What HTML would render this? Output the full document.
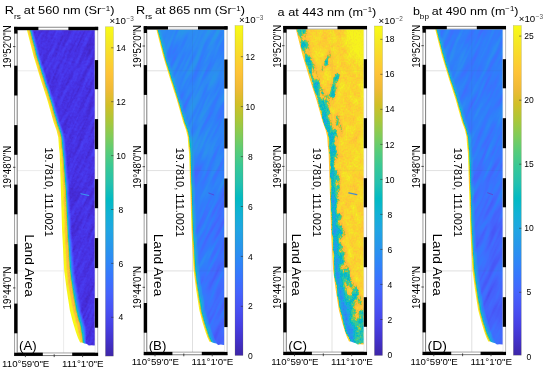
<!DOCTYPE html>
<html lang="en"><head><meta charset="utf-8"><title>Figure</title>
<style>html,body{margin:0;padding:0;background:#fff;overflow:hidden}svg{display:block}text{font-family:"Liberation Sans", Arial, Helvetica, sans-serif;fill:#000;stroke:none}</style></head><body>
<svg width="550" height="373" viewBox="0 0 550 373">
<defs>
<linearGradient id="parula" x1="0" y1="1" x2="0" y2="0"><stop offset="0.0000" stop-color="#3e26a8"/><stop offset="0.0476" stop-color="#4332cb"/><stop offset="0.0952" stop-color="#4741e5"/><stop offset="0.1429" stop-color="#4852f4"/><stop offset="0.1905" stop-color="#4563fd"/><stop offset="0.2381" stop-color="#3875fe"/><stop offset="0.2857" stop-color="#2e87f7"/><stop offset="0.3333" stop-color="#2797eb"/><stop offset="0.3810" stop-color="#20a5e3"/><stop offset="0.4286" stop-color="#12b1d6"/><stop offset="0.4762" stop-color="#02bac3"/><stop offset="0.5238" stop-color="#24c1ae"/><stop offset="0.5714" stop-color="#37c897"/><stop offset="0.6190" stop-color="#57cc7a"/><stop offset="0.6667" stop-color="#81cc59"/><stop offset="0.7143" stop-color="#abc739"/><stop offset="0.7619" stop-color="#d1bf27"/><stop offset="0.8095" stop-color="#f0ba36"/><stop offset="0.8571" stop-color="#fec338"/><stop offset="0.9048" stop-color="#fad62d"/><stop offset="0.9524" stop-color="#f5e924"/><stop offset="1.0000" stop-color="#f9fb15"/></linearGradient>
<filter id="fA" filterUnits="userSpaceOnUse" x="-10" y="-60" width="260" height="400" color-interpolation-filters="sRGB">
<feGaussianBlur in="SourceGraphic" stdDeviation="0.6" result="v0"/>
<feTurbulence type="fractalNoise" baseFrequency="0.30 0.035" numOctaves="2" seed="3" result="t0"/>
<feColorMatrix in="t0" type="matrix" values="0 0 0 1 0  0 0 0 1 0  0 0 0 1 0  0 0 0 0 1" result="n0"/>
<feComposite in="v0" in2="n0" operator="arithmetic" k1="0" k2="1" k3="0.120" k4="-0.060" result="v1"/>
<feTurbulence type="fractalNoise" baseFrequency="0.45 0.45" numOctaves="2" seed="8" result="t1"/>
<feColorMatrix in="t1" type="matrix" values="0 0 0 1 0  0 0 0 1 0  0 0 0 1 0  0 0 0 0 1" result="n1"/>
<feComposite in="v1" in2="n1" operator="arithmetic" k1="0" k2="1" k3="0.070" k4="-0.035" result="v2"/>
<feComponentTransfer in="v2"><feFuncR type="table" tableValues="0.249 0.257 0.265 0.271 0.277 0.281 0.283 0.285 0.285 0.285 0.283 0.278 0.272 0.262 0.245 0.221 0.196 0.183 0.179 0.176 0.169 0.154 0.146 0.138 0.125 0.111 0.095 0.069 0.030 0.004 0.007 0.043 0.096 0.141 0.172 0.194 0.216 0.247 0.291 0.341 0.391 0.446 0.504 0.562 0.617 0.672 0.724 0.774 0.820 0.863 0.903 0.939 0.973 0.996 0.997 0.995 0.989 0.979 0.968 0.961 0.960 0.963 0.969 0.977"/><feFuncG type="table" tableValues="0.126 0.140 0.156 0.172 0.189 0.209 0.231 0.253 0.277 0.301 0.325 0.349 0.374 0.401 0.428 0.457 0.485 0.507 0.529 0.550 0.570 0.590 0.609 0.628 0.646 0.663 0.680 0.695 0.708 0.720 0.731 0.741 0.750 0.758 0.767 0.776 0.784 0.792 0.797 0.801 0.803 0.802 0.799 0.794 0.788 0.779 0.770 0.760 0.750 0.741 0.733 0.729 0.730 0.743 0.766 0.789 0.814 0.839 0.864 0.889 0.913 0.937 0.961 0.984"/><feFuncB type="table" tableValues="0.707 0.754 0.797 0.840 0.880 0.913 0.938 0.958 0.974 0.987 0.997 1.000 1.000 1.000 1.000 1.000 0.989 0.980 0.968 0.952 0.936 0.922 0.908 0.897 0.888 0.876 0.860 0.839 0.816 0.792 0.766 0.739 0.712 0.684 0.655 0.625 0.592 0.557 0.519 0.479 0.435 0.391 0.348 0.304 0.261 0.223 0.191 0.165 0.153 0.160 0.177 0.210 0.239 0.237 0.220 0.203 0.189 0.177 0.164 0.154 0.142 0.127 0.106 0.081"/></feComponentTransfer>
</filter>
<filter id="fB" filterUnits="userSpaceOnUse" x="-10" y="-60" width="260" height="400" color-interpolation-filters="sRGB">
<feGaussianBlur in="SourceGraphic" stdDeviation="0.45" result="v0"/>
<feTurbulence type="fractalNoise" baseFrequency="0.22 0.03" numOctaves="2" seed="7" result="t0"/>
<feColorMatrix in="t0" type="matrix" values="0 0 0 1 0  0 0 0 1 0  0 0 0 1 0  0 0 0 0 1" result="n0"/>
<feComposite in="v0" in2="n0" operator="arithmetic" k1="0" k2="1" k3="0.170" k4="-0.085" result="v1"/>
<feTurbulence type="fractalNoise" baseFrequency="0.05 0.03" numOctaves="1" seed="2" result="t1"/>
<feColorMatrix in="t1" type="matrix" values="0 0 0 1 0  0 0 0 1 0  0 0 0 1 0  0 0 0 0 1" result="n1"/>
<feComposite in="v1" in2="n1" operator="arithmetic" k1="0" k2="1" k3="0.060" k4="-0.030" result="v2"/>
<feComponentTransfer in="v2"><feFuncR type="table" tableValues="0.242 0.250 0.258 0.265 0.271 0.275 0.278 0.280 0.281 0.281 0.280 0.276 0.270 0.260 0.244 0.221 0.196 0.183 0.179 0.176 0.169 0.154 0.146 0.138 0.125 0.111 0.095 0.069 0.030 0.004 0.007 0.043 0.096 0.141 0.172 0.194 0.216 0.247 0.291 0.341 0.391 0.446 0.504 0.562 0.617 0.672 0.724 0.774 0.820 0.863 0.903 0.939 0.973 0.996 0.997 0.995 0.989 0.979 0.968 0.961 0.960 0.963 0.969 0.977"/><feFuncG type="table" tableValues="0.150 0.165 0.182 0.198 0.215 0.234 0.256 0.278 0.301 0.323 0.345 0.367 0.389 0.412 0.436 0.460 0.485 0.507 0.529 0.550 0.570 0.590 0.609 0.628 0.646 0.663 0.680 0.695 0.708 0.720 0.731 0.741 0.750 0.758 0.767 0.776 0.784 0.792 0.797 0.801 0.803 0.802 0.799 0.794 0.788 0.779 0.770 0.760 0.750 0.741 0.733 0.729 0.730 0.743 0.766 0.789 0.814 0.839 0.864 0.889 0.913 0.937 0.961 0.984"/><feFuncB type="table" tableValues="0.660 0.708 0.751 0.795 0.836 0.871 0.899 0.922 0.941 0.958 0.972 0.983 0.991 0.995 0.999 0.997 0.989 0.980 0.968 0.952 0.936 0.922 0.908 0.897 0.888 0.876 0.860 0.839 0.816 0.792 0.766 0.739 0.712 0.684 0.655 0.625 0.592 0.557 0.519 0.479 0.435 0.391 0.348 0.304 0.261 0.223 0.191 0.165 0.153 0.160 0.177 0.210 0.239 0.237 0.220 0.203 0.189 0.177 0.164 0.154 0.142 0.127 0.106 0.081"/></feComponentTransfer>
</filter>
<filter id="fC" filterUnits="userSpaceOnUse" x="-10" y="-60" width="260" height="400" color-interpolation-filters="sRGB">
<feGaussianBlur in="SourceGraphic" stdDeviation="0.9" result="v0"/>
<feTurbulence type="fractalNoise" baseFrequency="0.13 0.09" numOctaves="3" seed="11" result="t0"/>
<feColorMatrix in="t0" type="matrix" values="0 0 0 1 0  0 0 0 1 0  0 0 0 1 0  0 0 0 0 1" result="n0"/>
<feComponentTransfer in="v0" result="m"><feFuncR type="table" tableValues="0.20 0.20 0.20 0.20 0.20 0.20 0.20 0.22 0.24 0.27 0.32 0.48 0.75 0.85 0.75 0.55 0.40 0.28 0.20 0.12 0.08"/><feFuncG type="table" tableValues="0.20 0.20 0.20 0.20 0.20 0.20 0.20 0.22 0.24 0.27 0.32 0.48 0.75 0.85 0.75 0.55 0.40 0.28 0.20 0.12 0.08"/><feFuncB type="table" tableValues="0.20 0.20 0.20 0.20 0.20 0.20 0.20 0.22 0.24 0.27 0.32 0.48 0.75 0.85 0.75 0.55 0.40 0.28 0.20 0.12 0.08"/></feComponentTransfer>
<feComposite in="m" in2="n0" operator="arithmetic" k1="1" k2="-0.5" k3="0" k4="0.5" result="d"/>
<feComposite in="v0" in2="d" operator="arithmetic" k1="0" k2="1" k3="1" k4="-0.5" result="v1"/>
<feTurbulence type="fractalNoise" baseFrequency="0.7 0.6" numOctaves="1" seed="5" result="t1"/>
<feColorMatrix in="t1" type="matrix" values="0 0 0 1 0  0 0 0 1 0  0 0 0 1 0  0 0 0 0 1" result="n1"/>
<feComposite in="v1" in2="n1" operator="arithmetic" k1="0" k2="1" k3="0.260" k4="-0.130" result="v2"/>
<feComponentTransfer in="v2"><feFuncR type="table" tableValues="0.242 0.250 0.258 0.265 0.271 0.275 0.278 0.280 0.281 0.281 0.280 0.276 0.270 0.260 0.244 0.221 0.196 0.183 0.179 0.176 0.169 0.154 0.146 0.138 0.125 0.111 0.095 0.069 0.030 0.004 0.007 0.043 0.096 0.141 0.172 0.194 0.216 0.238 0.294 0.416 0.585 0.750 0.876 0.952 0.979 0.990 0.996 0.997 0.997 0.996 0.994 0.991 0.987 0.981 0.976 0.970 0.966 0.963 0.961 0.960 0.960 0.962 0.964 0.967"/><feFuncG type="table" tableValues="0.150 0.165 0.182 0.198 0.215 0.234 0.256 0.278 0.301 0.323 0.345 0.367 0.389 0.412 0.436 0.460 0.485 0.507 0.529 0.550 0.570 0.590 0.609 0.628 0.646 0.663 0.680 0.695 0.708 0.720 0.731 0.741 0.750 0.758 0.767 0.776 0.784 0.790 0.798 0.803 0.791 0.765 0.738 0.729 0.734 0.740 0.749 0.760 0.772 0.783 0.795 0.807 0.820 0.832 0.845 0.857 0.870 0.882 0.895 0.907 0.919 0.931 0.943 0.955"/><feFuncB type="table" tableValues="0.660 0.708 0.751 0.795 0.836 0.871 0.899 0.922 0.941 0.958 0.972 0.983 0.991 0.995 0.999 0.997 0.989 0.980 0.968 0.952 0.936 0.922 0.908 0.897 0.888 0.876 0.860 0.839 0.816 0.792 0.766 0.739 0.712 0.684 0.655 0.625 0.592 0.567 0.516 0.415 0.286 0.177 0.165 0.221 0.239 0.238 0.233 0.224 0.216 0.207 0.199 0.192 0.186 0.180 0.174 0.167 0.162 0.156 0.151 0.145 0.139 0.131 0.122 0.112"/></feComponentTransfer>
</filter>
<filter id="fD" filterUnits="userSpaceOnUse" x="-10" y="-60" width="260" height="400" color-interpolation-filters="sRGB">
<feGaussianBlur in="SourceGraphic" stdDeviation="0.45" result="v0"/>
<feTurbulence type="fractalNoise" baseFrequency="0.22 0.03" numOctaves="2" seed="9" result="t0"/>
<feColorMatrix in="t0" type="matrix" values="0 0 0 1 0  0 0 0 1 0  0 0 0 1 0  0 0 0 0 1" result="n0"/>
<feComposite in="v0" in2="n0" operator="arithmetic" k1="0" k2="1" k3="0.160" k4="-0.080" result="v1"/>
<feTurbulence type="fractalNoise" baseFrequency="0.05 0.03" numOctaves="1" seed="4" result="t1"/>
<feColorMatrix in="t1" type="matrix" values="0 0 0 1 0  0 0 0 1 0  0 0 0 1 0  0 0 0 0 1" result="n1"/>
<feComposite in="v1" in2="n1" operator="arithmetic" k1="0" k2="1" k3="0.060" k4="-0.030" result="v2"/>
<feComponentTransfer in="v2"><feFuncR type="table" tableValues="0.242 0.250 0.258 0.265 0.271 0.275 0.278 0.280 0.281 0.281 0.280 0.276 0.270 0.260 0.244 0.221 0.196 0.183 0.179 0.176 0.169 0.154 0.146 0.138 0.125 0.111 0.095 0.069 0.030 0.004 0.007 0.043 0.096 0.141 0.172 0.194 0.216 0.247 0.291 0.341 0.391 0.446 0.504 0.562 0.617 0.672 0.724 0.774 0.820 0.863 0.903 0.939 0.973 0.996 0.997 0.995 0.989 0.979 0.968 0.961 0.960 0.963 0.969 0.977"/><feFuncG type="table" tableValues="0.150 0.165 0.182 0.198 0.215 0.234 0.256 0.278 0.301 0.323 0.345 0.367 0.389 0.412 0.436 0.460 0.485 0.507 0.529 0.550 0.570 0.590 0.609 0.628 0.646 0.663 0.680 0.695 0.708 0.720 0.731 0.741 0.750 0.758 0.767 0.776 0.784 0.792 0.797 0.801 0.803 0.802 0.799 0.794 0.788 0.779 0.770 0.760 0.750 0.741 0.733 0.729 0.730 0.743 0.766 0.789 0.814 0.839 0.864 0.889 0.913 0.937 0.961 0.984"/><feFuncB type="table" tableValues="0.660 0.708 0.751 0.795 0.836 0.871 0.899 0.922 0.941 0.958 0.972 0.983 0.991 0.995 0.999 0.997 0.989 0.980 0.968 0.952 0.936 0.922 0.908 0.897 0.888 0.876 0.860 0.839 0.816 0.792 0.766 0.739 0.712 0.684 0.655 0.625 0.592 0.557 0.519 0.479 0.435 0.391 0.348 0.304 0.261 0.223 0.191 0.165 0.153 0.160 0.177 0.210 0.239 0.237 0.220 0.203 0.189 0.177 0.164 0.154 0.142 0.127 0.106 0.081"/></feComponentTransfer>
</filter>
<linearGradient id="gB0" gradientUnits="userSpaceOnUse" x1="0" y1="0" x2="0" y2="320"><stop offset="0.000" stop-color="#494949"/><stop offset="0.406" stop-color="#464646"/><stop offset="0.625" stop-color="#3e3e3e"/><stop offset="1.000" stop-color="#373737"/></linearGradient>
<linearGradient id="gB1" gradientUnits="userSpaceOnUse" x1="0" y1="0" x2="0" y2="320"><stop offset="0.000" stop-color="#595959"/><stop offset="0.406" stop-color="#585858"/><stop offset="0.625" stop-color="#535353"/><stop offset="1.000" stop-color="#4f4f4f"/></linearGradient>
<linearGradient id="gD0" gradientUnits="userSpaceOnUse" x1="0" y1="0" x2="0" y2="320"><stop offset="0.000" stop-color="#434343"/><stop offset="0.406" stop-color="#404040"/><stop offset="0.625" stop-color="#373737"/><stop offset="1.000" stop-color="#303030"/></linearGradient>
<linearGradient id="gD1" gradientUnits="userSpaceOnUse" x1="0" y1="0" x2="0" y2="320"><stop offset="0.000" stop-color="#545454"/><stop offset="0.406" stop-color="#525252"/><stop offset="0.625" stop-color="#4c4c4c"/><stop offset="1.000" stop-color="#4a4a4a"/></linearGradient>
<linearGradient id="gC1" gradientUnits="userSpaceOnUse" x1="0" y1="0" x2="0" y2="320"><stop offset="0.000" stop-color="#878787"/><stop offset="0.312" stop-color="#808080"/><stop offset="0.500" stop-color="#757575"/><stop offset="0.750" stop-color="#6e6e6e"/><stop offset="1.000" stop-color="#666666"/></linearGradient>
<linearGradient id="gC2" gradientUnits="userSpaceOnUse" x1="0" y1="0" x2="0" y2="320"><stop offset="0.000" stop-color="#7a7a7a"/><stop offset="0.312" stop-color="#737373"/><stop offset="0.500" stop-color="#636363"/><stop offset="0.750" stop-color="#575757"/><stop offset="1.000" stop-color="#4c4c4c"/></linearGradient>
<clipPath id="dataclip"><polygon points="12.5,3.0 19.3,29.7 26.6,53.7 33.1,73.7 39.3,95.7 42.2,103.6 43.9,110.7 44.5,119.7 45.3,127.0 46.5,163.7 47.7,203.7 49.8,243.7 52.4,263.7 55.5,283.7 58.3,294.6 61.6,305.5 63.6,311.0 65.7,315.5 65.7,315.5 67.5,315.6 70.0,316.6 72.5,317.2 74.4,318.6 77.0,318.3 79.8,318.6 82.8,318.2 82.8,3.0"/></clipPath>
</defs>
<rect width="550" height="373" fill="#ffffff"/>
<!-- panel A -->
<g id="panelA">
<line x1="17.2" y1="70.8" x2="95.1" y2="70.8" stroke="#e2e2e2" stroke-width="0.7" opacity="1"/>
<line x1="17.2" y1="170.6" x2="95.1" y2="170.6" stroke="#e2e2e2" stroke-width="0.7" opacity="1"/>
<line x1="17.2" y1="270.9" x2="95.1" y2="270.9" stroke="#e2e2e2" stroke-width="0.7" opacity="1"/>
<line x1="63.6" y1="29.9" x2="63.6" y2="352.9" stroke="#e2e2e2" stroke-width="0.7" opacity="1"/>
<g transform="translate(14.4,26.9)" clip-path="url(#dataclip)"><g transform="rotate(25)" filter="url(#fA)"><g transform="rotate(-25)">
<rect x="-200" y="-200" width="600" height="800" fill="#121212"/>
<polygon points="18.0,0.0 18.8,3.0 19.6,6.0 20.3,9.0 21.1,12.0 21.9,15.0 22.7,18.0 23.4,21.0 24.2,24.0 25.0,27.0 25.8,30.0 26.7,33.0 27.6,36.0 28.5,39.0 29.4,42.0 30.3,45.0 31.3,48.0 32.2,51.0 33.1,54.0 34.1,57.0 35.1,60.0 36.0,63.0 37.0,66.0 38.0,69.0 39.0,72.0 39.9,75.0 40.8,78.0 41.6,81.0 42.5,84.0 43.3,87.0 44.2,90.0 45.0,93.0 45.9,96.0 47.0,99.0 48.1,102.0 49.1,105.0 49.8,108.0 50.5,111.0 50.7,114.0 51.0,117.0 51.2,120.0 51.5,123.0 51.9,126.0 52.2,129.0 52.5,132.0 52.7,135.0 52.9,138.0 53.1,141.0 53.4,144.0 53.6,147.0 53.8,150.0 54.0,153.0 54.2,156.0 54.5,159.0 54.7,162.0 54.9,165.0 55.1,168.0 55.3,171.0 55.5,174.0 55.6,177.0 55.8,180.0 55.9,183.0 56.1,186.0 56.3,189.0 56.4,192.0 56.6,195.0 56.8,198.0 56.9,201.0 57.1,204.0 57.3,207.0 57.6,210.0 57.8,213.0 58.0,216.0 58.2,219.0 58.5,222.0 58.7,225.0 58.9,228.0 59.2,231.0 59.4,234.0 59.6,237.0 59.9,240.0 60.1,243.0 60.5,246.0 61.0,249.0 61.4,252.0 61.9,255.0 62.4,258.0 62.8,261.0 63.3,264.0 63.8,267.0 64.3,270.0 64.8,273.0 65.4,276.0 65.9,279.0 66.4,282.0 67.1,285.0 67.9,288.0 68.7,291.0 69.5,294.0 70.5,297.0 71.4,300.0 71.6,303.0 71.8,306.0 71.9,309.0 71.8,312.0 71.7,315.0 72.1,318.0 72.3,318.5 61.1,318.5 60.9,318.0 59.5,315.0 58.1,312.0 56.9,309.0 55.8,306.0 54.8,303.0 53.9,300.0 53.0,297.0 52.1,294.0 51.4,291.0 50.6,288.0 49.8,285.0 49.2,282.0 48.8,279.0 48.3,276.0 47.8,273.0 47.4,270.0 46.9,267.0 46.4,264.0 46.0,261.0 45.7,258.0 45.3,255.0 44.9,252.0 44.5,249.0 44.1,246.0 43.8,243.0 43.6,240.0 43.4,237.0 43.3,234.0 43.1,231.0 43.0,228.0 42.8,225.0 42.7,222.0 42.5,219.0 42.3,216.0 42.2,213.0 42.0,210.0 41.9,207.0 41.7,204.0 41.6,201.0 41.5,198.0 41.4,195.0 41.3,192.0 41.3,189.0 41.2,186.0 41.1,183.0 41.0,180.0 40.9,177.0 40.8,174.0 40.7,171.0 40.6,168.0 40.5,165.0 40.4,162.0 40.3,159.0 40.2,156.0 40.2,153.0 40.1,150.0 40.0,147.0 39.9,144.0 39.8,141.0 39.7,138.0 39.6,135.0 39.5,132.0 39.4,129.0 39.2,126.0 38.9,123.0 38.5,120.0 38.3,117.0 38.1,114.0 37.9,111.0 37.3,108.0 36.5,105.0 35.6,102.0 34.5,99.0 33.4,96.0 32.5,93.0 31.7,90.0 30.8,87.0 30.0,84.0 29.2,81.0 28.3,78.0 27.5,75.0 26.5,72.0 25.6,69.0 24.6,66.0 23.6,63.0 22.6,60.0 21.7,57.0 20.7,54.0 19.8,51.0 18.9,48.0 18.0,45.0 17.0,42.0 16.1,39.0 15.2,36.0 14.3,33.0 13.4,30.0 12.6,27.0 11.8,24.0 11.1,21.0 10.3,18.0 9.6,15.0 8.8,12.0 8.0,9.0 7.3,6.0 6.5,3.0 5.7,0.0" fill="#212121"/>
<polygon points="17.1,0.0 17.9,3.0 18.6,6.0 19.4,9.0 20.2,12.0 20.9,15.0 21.7,18.0 22.5,21.0 23.2,24.0 24.0,27.0 24.8,30.0 25.7,33.0 26.6,36.0 27.5,39.0 28.5,42.0 29.4,45.0 30.3,48.0 31.2,51.0 32.1,54.0 33.1,57.0 34.1,60.0 35.1,63.0 36.0,66.0 37.0,69.0 38.0,72.0 38.9,75.0 39.8,78.0 40.6,81.0 41.5,84.0 42.3,87.0 43.2,90.0 44.0,93.0 44.9,96.0 46.0,99.0 47.1,102.0 48.1,105.0 48.8,108.0 49.5,111.0 49.7,114.0 49.9,117.0 50.2,120.0 50.5,123.0 50.9,126.0 51.2,129.0 51.4,132.0 51.6,135.0 51.8,138.0 52.1,141.0 52.3,144.0 52.5,147.0 52.7,150.0 52.9,153.0 53.2,156.0 53.4,159.0 53.6,162.0 53.8,165.0 54.0,168.0 54.2,171.0 54.3,174.0 54.5,177.0 54.6,180.0 54.8,183.0 54.9,186.0 55.1,189.0 55.3,192.0 55.4,195.0 55.6,198.0 55.7,201.0 55.9,204.0 56.1,207.0 56.3,210.0 56.5,213.0 56.8,216.0 57.0,219.0 57.2,222.0 57.4,225.0 57.6,228.0 57.9,231.0 58.1,234.0 58.3,237.0 58.5,240.0 58.7,243.0 59.1,246.0 59.6,249.0 60.1,252.0 60.5,255.0 61.0,258.0 61.4,261.0 61.9,264.0 62.5,267.0 63.0,270.0 63.5,273.0 64.1,276.0 64.6,279.0 65.2,282.0 65.9,285.0 66.7,288.0 67.5,291.0 68.3,294.0 69.3,297.0 70.2,300.0 70.5,303.0 70.8,306.0 71.0,309.0 71.1,312.0 71.2,315.0 71.6,318.0 71.9,318.5 61.1,318.5 60.9,318.0 59.5,315.0 58.1,312.0 56.9,309.0 55.8,306.0 54.8,303.0 53.9,300.0 53.0,297.0 52.1,294.0 51.4,291.0 50.6,288.0 49.8,285.0 49.2,282.0 48.8,279.0 48.3,276.0 47.8,273.0 47.4,270.0 46.9,267.0 46.4,264.0 46.0,261.0 45.7,258.0 45.3,255.0 44.9,252.0 44.5,249.0 44.1,246.0 43.8,243.0 43.6,240.0 43.4,237.0 43.3,234.0 43.1,231.0 43.0,228.0 42.8,225.0 42.7,222.0 42.5,219.0 42.3,216.0 42.2,213.0 42.0,210.0 41.9,207.0 41.7,204.0 41.6,201.0 41.5,198.0 41.4,195.0 41.3,192.0 41.3,189.0 41.2,186.0 41.1,183.0 41.0,180.0 40.9,177.0 40.8,174.0 40.7,171.0 40.6,168.0 40.5,165.0 40.4,162.0 40.3,159.0 40.2,156.0 40.2,153.0 40.1,150.0 40.0,147.0 39.9,144.0 39.8,141.0 39.7,138.0 39.6,135.0 39.5,132.0 39.4,129.0 39.2,126.0 38.9,123.0 38.5,120.0 38.3,117.0 38.1,114.0 37.9,111.0 37.3,108.0 36.5,105.0 35.6,102.0 34.5,99.0 33.4,96.0 32.5,93.0 31.7,90.0 30.8,87.0 30.0,84.0 29.2,81.0 28.3,78.0 27.5,75.0 26.5,72.0 25.6,69.0 24.6,66.0 23.6,63.0 22.6,60.0 21.7,57.0 20.7,54.0 19.8,51.0 18.9,48.0 18.0,45.0 17.0,42.0 16.1,39.0 15.2,36.0 14.3,33.0 13.4,30.0 12.6,27.0 11.8,24.0 11.1,21.0 10.3,18.0 9.6,15.0 8.8,12.0 8.0,9.0 7.3,6.0 6.5,3.0 5.7,0.0" fill="#3d3d3d"/>
<polygon points="15.8,0.0 16.6,3.0 17.4,6.0 18.1,9.0 18.9,12.0 19.7,15.0 20.4,18.0 21.2,21.0 22.0,24.0 22.7,27.0 23.5,30.0 24.4,33.0 25.4,36.0 26.3,39.0 27.2,42.0 28.1,45.0 29.0,48.0 29.9,51.0 30.9,54.0 31.8,57.0 32.8,60.0 33.8,63.0 34.8,66.0 35.7,69.0 36.7,72.0 37.6,75.0 38.5,78.0 39.3,81.0 40.2,84.0 41.0,87.0 41.9,90.0 42.7,93.0 43.6,96.0 44.7,99.0 45.8,102.0 46.8,105.0 47.5,108.0 48.2,111.0 48.4,114.0 48.6,117.0 48.8,120.0 49.2,123.0 49.5,126.0 49.8,129.0 50.0,132.0 50.3,135.0 50.5,138.0 50.7,141.0 50.9,144.0 51.1,147.0 51.3,150.0 51.6,153.0 51.8,156.0 52.0,159.0 52.2,162.0 52.4,165.0 52.6,168.0 52.8,171.0 52.9,174.0 53.1,177.0 53.2,180.0 53.3,183.0 53.5,186.0 53.6,189.0 53.8,192.0 53.9,195.0 54.1,198.0 54.2,201.0 54.4,204.0 54.6,207.0 54.8,210.0 55.0,213.0 55.2,216.0 55.4,219.0 55.6,222.0 55.8,225.0 56.0,228.0 56.3,231.0 56.5,234.0 56.7,237.0 56.9,240.0 57.1,243.0 57.5,246.0 57.9,249.0 58.4,252.0 58.8,255.0 59.3,258.0 59.7,261.0 60.2,264.0 60.8,267.0 61.4,270.0 61.9,273.0 62.5,276.0 63.1,279.0 63.6,282.0 64.3,285.0 65.2,288.0 66.0,291.0 66.8,294.0 67.8,297.0 68.7,300.0 69.1,303.0 69.5,306.0 69.8,309.0 70.0,312.0 70.3,315.0 70.9,318.0 71.1,318.5 61.1,318.5 60.9,318.0 59.5,315.0 58.1,312.0 56.9,309.0 55.8,306.0 54.8,303.0 53.9,300.0 53.0,297.0 52.1,294.0 51.4,291.0 50.6,288.0 49.8,285.0 49.2,282.0 48.8,279.0 48.3,276.0 47.8,273.0 47.4,270.0 46.9,267.0 46.4,264.0 46.0,261.0 45.7,258.0 45.3,255.0 44.9,252.0 44.5,249.0 44.1,246.0 43.8,243.0 43.6,240.0 43.4,237.0 43.3,234.0 43.1,231.0 43.0,228.0 42.8,225.0 42.7,222.0 42.5,219.0 42.3,216.0 42.2,213.0 42.0,210.0 41.9,207.0 41.7,204.0 41.6,201.0 41.5,198.0 41.4,195.0 41.3,192.0 41.3,189.0 41.2,186.0 41.1,183.0 41.0,180.0 40.9,177.0 40.8,174.0 40.7,171.0 40.6,168.0 40.5,165.0 40.4,162.0 40.3,159.0 40.2,156.0 40.2,153.0 40.1,150.0 40.0,147.0 39.9,144.0 39.8,141.0 39.7,138.0 39.6,135.0 39.5,132.0 39.4,129.0 39.2,126.0 38.9,123.0 38.5,120.0 38.3,117.0 38.1,114.0 37.9,111.0 37.3,108.0 36.5,105.0 35.6,102.0 34.5,99.0 33.4,96.0 32.5,93.0 31.7,90.0 30.8,87.0 30.0,84.0 29.2,81.0 28.3,78.0 27.5,75.0 26.5,72.0 25.6,69.0 24.6,66.0 23.6,63.0 22.6,60.0 21.7,57.0 20.7,54.0 19.8,51.0 18.9,48.0 18.0,45.0 17.0,42.0 16.1,39.0 15.2,36.0 14.3,33.0 13.4,30.0 12.6,27.0 11.8,24.0 11.1,21.0 10.3,18.0 9.6,15.0 8.8,12.0 8.0,9.0 7.3,6.0 6.5,3.0 5.7,0.0" fill="#6b6b6b"/>
<polygon points="15.2,0.0 16.0,3.0 16.8,6.0 17.5,9.0 18.3,12.0 19.1,15.0 19.8,18.0 20.6,21.0 21.4,24.0 22.1,27.0 22.9,30.0 23.8,33.0 24.8,36.0 25.7,39.0 26.6,42.0 27.5,45.0 28.4,48.0 29.3,51.0 30.3,54.0 31.2,57.0 32.2,60.0 33.2,63.0 34.2,66.0 35.1,69.0 36.1,72.0 37.0,75.0 37.9,78.0 38.7,81.0 39.6,84.0 40.4,87.0 41.3,90.0 42.1,93.0 43.0,96.0 44.1,99.0 45.2,102.0 46.2,105.0 46.9,108.0 47.6,111.0 47.8,114.0 48.0,117.0 48.2,120.0 48.6,123.0 48.9,126.0 49.2,129.0 49.5,132.0 49.7,135.0 49.9,138.0 50.1,141.0 50.4,144.0 50.6,147.0 50.8,150.0 51.0,153.0 51.2,156.0 51.5,159.0 51.7,162.0 51.9,165.0 52.1,168.0 52.3,171.0 52.4,174.0 52.5,177.0 52.6,180.0 52.7,183.0 52.9,186.0 53.0,189.0 53.1,192.0 53.2,195.0 53.4,198.0 53.5,201.0 53.6,204.0 53.8,207.0 54.0,210.0 54.2,213.0 54.4,216.0 54.6,219.0 54.8,222.0 55.0,225.0 55.1,228.0 55.3,231.0 55.5,234.0 55.7,237.0 55.9,240.0 56.1,243.0 56.5,246.0 56.9,249.0 57.3,252.0 57.7,255.0 58.2,258.0 58.6,261.0 59.0,264.0 59.5,267.0 60.0,270.0 60.5,273.0 61.0,276.0 61.6,279.0 62.1,282.0 62.7,285.0 63.5,288.0 64.3,291.0 65.1,294.0 66.0,297.0 66.9,300.0 67.4,303.0 67.8,306.0 68.3,309.0 68.6,312.0 68.9,315.0 69.6,318.0 69.8,318.5 61.1,318.5 60.9,318.0 59.5,315.0 58.1,312.0 56.9,309.0 55.8,306.0 54.8,303.0 53.9,300.0 53.0,297.0 52.1,294.0 51.4,291.0 50.6,288.0 49.8,285.0 49.2,282.0 48.8,279.0 48.3,276.0 47.8,273.0 47.4,270.0 46.9,267.0 46.4,264.0 46.0,261.0 45.7,258.0 45.3,255.0 44.9,252.0 44.5,249.0 44.1,246.0 43.8,243.0 43.6,240.0 43.4,237.0 43.3,234.0 43.1,231.0 43.0,228.0 42.8,225.0 42.7,222.0 42.5,219.0 42.3,216.0 42.2,213.0 42.0,210.0 41.9,207.0 41.7,204.0 41.6,201.0 41.5,198.0 41.4,195.0 41.3,192.0 41.3,189.0 41.2,186.0 41.1,183.0 41.0,180.0 40.9,177.0 40.8,174.0 40.7,171.0 40.6,168.0 40.5,165.0 40.4,162.0 40.3,159.0 40.2,156.0 40.2,153.0 40.1,150.0 40.0,147.0 39.9,144.0 39.8,141.0 39.7,138.0 39.6,135.0 39.5,132.0 39.4,129.0 39.2,126.0 38.9,123.0 38.5,120.0 38.3,117.0 38.1,114.0 37.9,111.0 37.3,108.0 36.5,105.0 35.6,102.0 34.5,99.0 33.4,96.0 32.5,93.0 31.7,90.0 30.8,87.0 30.0,84.0 29.2,81.0 28.3,78.0 27.5,75.0 26.5,72.0 25.6,69.0 24.6,66.0 23.6,63.0 22.6,60.0 21.7,57.0 20.7,54.0 19.8,51.0 18.9,48.0 18.0,45.0 17.0,42.0 16.1,39.0 15.2,36.0 14.3,33.0 13.4,30.0 12.6,27.0 11.8,24.0 11.1,21.0 10.3,18.0 9.6,15.0 8.8,12.0 8.0,9.0 7.3,6.0 6.5,3.0 5.7,0.0" fill="#999999"/>
<polygon points="14.5,0.0 15.3,3.0 16.1,6.0 16.8,9.0 17.6,12.0 18.4,15.0 19.1,18.0 19.9,21.0 20.7,24.0 21.4,27.0 22.2,30.0 23.1,33.0 24.1,36.0 25.0,39.0 25.9,42.0 26.8,45.0 27.7,48.0 28.6,51.0 29.6,54.0 30.5,57.0 31.5,60.0 32.5,63.0 33.5,66.0 34.4,69.0 35.4,72.0 36.3,75.0 37.2,78.0 38.0,81.0 38.9,84.0 39.7,87.0 40.6,90.0 41.4,93.0 42.3,96.0 43.4,99.0 44.5,102.0 45.5,105.0 46.2,108.0 46.9,111.0 47.1,114.0 47.3,117.0 47.5,120.0 47.9,123.0 48.2,126.0 48.5,129.0 48.8,132.0 49.0,135.0 49.2,138.0 49.4,141.0 49.7,144.0 49.9,147.0 50.1,150.0 50.3,153.0 50.5,156.0 50.8,159.0 51.0,162.0 51.2,165.0 51.4,168.0 51.6,171.0 51.7,174.0 51.8,177.0 51.9,180.0 52.0,183.0 52.2,186.0 52.3,189.0 52.4,192.0 52.5,195.0 52.7,198.0 52.8,201.0 52.9,204.0 53.1,207.0 53.3,210.0 53.5,213.0 53.7,216.0 53.9,219.0 54.1,222.0 54.3,225.0 54.4,228.0 54.6,231.0 54.8,234.0 55.0,237.0 55.2,240.0 55.4,243.0 55.8,246.0 56.2,249.0 56.6,252.0 57.0,255.0 57.5,258.0 57.9,261.0 58.3,264.0 58.8,267.0 59.3,270.0 59.8,273.0 60.3,276.0 60.9,279.0 61.4,282.0 62.0,285.0 62.8,288.0 63.6,291.0 64.4,294.0 65.3,297.0 66.2,300.0 66.7,303.0 67.1,306.0 67.6,309.0 67.9,312.0 68.2,315.0 68.9,318.0 69.1,318.5 61.1,318.5 60.9,318.0 59.5,315.0 58.1,312.0 56.9,309.0 55.8,306.0 54.8,303.0 53.9,300.0 53.0,297.0 52.1,294.0 51.4,291.0 50.6,288.0 49.8,285.0 49.2,282.0 48.8,279.0 48.3,276.0 47.8,273.0 47.4,270.0 46.9,267.0 46.4,264.0 46.0,261.0 45.7,258.0 45.3,255.0 44.9,252.0 44.5,249.0 44.1,246.0 43.8,243.0 43.6,240.0 43.4,237.0 43.3,234.0 43.1,231.0 43.0,228.0 42.8,225.0 42.7,222.0 42.5,219.0 42.3,216.0 42.2,213.0 42.0,210.0 41.9,207.0 41.7,204.0 41.6,201.0 41.5,198.0 41.4,195.0 41.3,192.0 41.3,189.0 41.2,186.0 41.1,183.0 41.0,180.0 40.9,177.0 40.8,174.0 40.7,171.0 40.6,168.0 40.5,165.0 40.4,162.0 40.3,159.0 40.2,156.0 40.2,153.0 40.1,150.0 40.0,147.0 39.9,144.0 39.8,141.0 39.7,138.0 39.6,135.0 39.5,132.0 39.4,129.0 39.2,126.0 38.9,123.0 38.5,120.0 38.3,117.0 38.1,114.0 37.9,111.0 37.3,108.0 36.5,105.0 35.6,102.0 34.5,99.0 33.4,96.0 32.5,93.0 31.7,90.0 30.8,87.0 30.0,84.0 29.2,81.0 28.3,78.0 27.5,75.0 26.5,72.0 25.6,69.0 24.6,66.0 23.6,63.0 22.6,60.0 21.7,57.0 20.7,54.0 19.8,51.0 18.9,48.0 18.0,45.0 17.0,42.0 16.1,39.0 15.2,36.0 14.3,33.0 13.4,30.0 12.6,27.0 11.8,24.0 11.1,21.0 10.3,18.0 9.6,15.0 8.8,12.0 8.0,9.0 7.3,6.0 6.5,3.0 5.7,0.0" fill="#d6d6d6"/>
<polygon points="12.7,0.0 13.5,3.0 14.3,6.0 15.0,9.0 15.8,12.0 16.6,15.0 17.4,18.0 18.1,21.0 18.9,24.0 19.7,27.0 20.5,30.0 21.4,33.0 22.3,36.0 23.2,39.0 24.1,42.0 25.0,45.0 26.0,48.0 26.9,51.0 27.8,54.0 28.8,57.0 29.8,60.0 30.7,63.0 31.7,66.0 32.7,69.0 33.7,72.0 34.6,75.0 35.5,78.0 36.3,81.0 37.2,84.0 38.0,87.0 38.9,90.0 39.7,93.0 40.6,96.0 41.7,99.0 42.9,102.0 43.9,105.0 44.6,108.0 45.4,111.0 45.7,114.0 45.9,117.0 46.2,120.0 46.6,123.0 47.0,126.0 47.3,129.0 47.4,132.0 47.6,135.0 47.8,138.0 47.9,141.0 48.1,144.0 48.3,147.0 48.4,150.0 48.6,153.0 48.8,156.0 48.9,159.0 49.1,162.0 49.3,165.0 49.4,168.0 49.5,171.0 49.6,174.0 49.7,177.0 49.8,180.0 49.8,183.0 49.9,186.0 50.0,189.0 50.1,192.0 50.2,195.0 50.3,198.0 50.3,201.0 50.4,204.0 50.6,207.0 50.7,210.0 50.9,213.0 51.0,216.0 51.2,219.0 51.3,222.0 51.5,225.0 51.6,228.0 51.8,231.0 51.9,234.0 52.1,237.0 52.2,240.0 52.4,243.0 52.7,246.0 53.1,249.0 53.5,252.0 53.9,255.0 54.3,258.0 54.7,261.0 55.2,264.0 55.8,267.0 56.3,270.0 56.9,273.0 57.4,276.0 58.0,279.0 58.6,282.0 59.2,285.0 60.1,288.0 60.8,291.0 61.5,294.0 62.3,297.0 63.1,300.0 63.8,303.0 64.5,306.0 65.2,309.0 66.0,312.0 66.8,315.0 67.8,318.0 68.0,318.5 61.1,318.5 60.9,318.0 59.5,315.0 58.1,312.0 56.9,309.0 55.8,306.0 54.8,303.0 53.9,300.0 53.0,297.0 52.1,294.0 51.4,291.0 50.6,288.0 49.8,285.0 49.2,282.0 48.8,279.0 48.3,276.0 47.8,273.0 47.4,270.0 46.9,267.0 46.4,264.0 46.0,261.0 45.7,258.0 45.3,255.0 44.9,252.0 44.5,249.0 44.1,246.0 43.8,243.0 43.6,240.0 43.4,237.0 43.3,234.0 43.1,231.0 43.0,228.0 42.8,225.0 42.7,222.0 42.5,219.0 42.3,216.0 42.2,213.0 42.0,210.0 41.9,207.0 41.7,204.0 41.6,201.0 41.5,198.0 41.4,195.0 41.3,192.0 41.3,189.0 41.2,186.0 41.1,183.0 41.0,180.0 40.9,177.0 40.8,174.0 40.7,171.0 40.6,168.0 40.5,165.0 40.4,162.0 40.3,159.0 40.2,156.0 40.2,153.0 40.1,150.0 40.0,147.0 39.9,144.0 39.8,141.0 39.7,138.0 39.6,135.0 39.5,132.0 39.4,129.0 39.2,126.0 38.9,123.0 38.5,120.0 38.3,117.0 38.1,114.0 37.9,111.0 37.3,108.0 36.5,105.0 35.6,102.0 34.5,99.0 33.4,96.0 32.5,93.0 31.7,90.0 30.8,87.0 30.0,84.0 29.2,81.0 28.3,78.0 27.5,75.0 26.5,72.0 25.6,69.0 24.6,66.0 23.6,63.0 22.6,60.0 21.7,57.0 20.7,54.0 19.8,51.0 18.9,48.0 18.0,45.0 17.0,42.0 16.1,39.0 15.2,36.0 14.3,33.0 13.4,30.0 12.6,27.0 11.8,24.0 11.1,21.0 10.3,18.0 9.6,15.0 8.8,12.0 8.0,9.0 7.3,6.0 6.5,3.0 5.7,0.0" fill="#fcfcfc"/>
</g></g>
<path d="M66.5 166.8 L74.4 168.6" stroke="#3aa8ee" stroke-width="1.1" stroke-linecap="round" fill="none" opacity="0.85"/>
</g>
<path fill-rule="evenodd" fill="#fff" d="M14.2 26.9h83.9v329.0h-83.9z M17.4 30.1h77.5v322.6h-77.5z"/>
<line x1="14.55" y1="26.90" x2="14.55" y2="355.90" stroke="#777" stroke-width="0.7"/>
<line x1="17.20" y1="30.10" x2="17.20" y2="352.70" stroke="#444" stroke-width="0.7"/>
<line x1="97.70" y1="26.90" x2="97.70" y2="355.90" stroke="#b5b5b5" stroke-width="0.9"/>
<line x1="95.10" y1="30.10" x2="95.10" y2="352.70" stroke="#ddd" stroke-width="0.5"/>
<line x1="14.20" y1="27.25" x2="98.10" y2="27.25" stroke="#555" stroke-width="0.7"/>
<line x1="17.40" y1="29.85" x2="94.90" y2="29.85" stroke="#888" stroke-width="0.6"/>
<line x1="14.20" y1="355.55" x2="98.10" y2="355.55" stroke="#444" stroke-width="0.7"/>
<line x1="17.40" y1="352.95" x2="94.90" y2="352.95" stroke="#666" stroke-width="0.6"/>
<rect x="14.2" y="26.9" width="24.2" height="3.2" fill="#000"/>
<rect x="68.4" y="26.9" width="29.7" height="3.2" fill="#000"/>
<rect x="14.2" y="352.7" width="28.6" height="3.2" fill="#000"/>
<rect x="72.2" y="352.7" width="25.9" height="3.2" fill="#000"/>
<rect x="14.2" y="26.9" width="3.2" height="6.7" fill="#000"/>
<rect x="14.2" y="65.7" width="3.2" height="29.8" fill="#000"/>
<rect x="14.2" y="125.1" width="3.2" height="29.7" fill="#000"/>
<rect x="14.2" y="184.6" width="3.2" height="29.7" fill="#000"/>
<rect x="14.2" y="244.1" width="3.2" height="29.7" fill="#000"/>
<rect x="14.2" y="303.6" width="3.2" height="29.7" fill="#000"/>
<rect x="94.9" y="26.9" width="3.2" height="3.2" fill="#000"/>
<rect x="94.9" y="60.1" width="3.2" height="29.1" fill="#000"/>
<rect x="94.9" y="119.1" width="3.2" height="30.0" fill="#000"/>
<rect x="94.9" y="179.1" width="3.2" height="29.1" fill="#000"/>
<rect x="94.9" y="238.1" width="3.2" height="30.0" fill="#000"/>
<rect x="94.9" y="298.1" width="3.2" height="29.6" fill="#000"/>
<line x1="13.0" y1="46.6" x2="15.4" y2="46.6" stroke="#222" stroke-width="0.8"/>
<line x1="13.0" y1="167.3" x2="15.4" y2="167.3" stroke="#222" stroke-width="0.8"/>
<line x1="13.0" y1="287.9" x2="15.4" y2="287.9" stroke="#222" stroke-width="0.8"/>
<line x1="25.4" y1="354.3" x2="25.4" y2="357.1" stroke="#222" stroke-width="0.8"/>
<line x1="54.2" y1="354.3" x2="54.2" y2="357.1" stroke="#222" stroke-width="0.8"/>
<line x1="82.6" y1="354.3" x2="82.6" y2="357.1" stroke="#222" stroke-width="0.8"/>
<text transform="translate(11.4,46.8) rotate(-90)" font-size="10" textLength="43" lengthAdjust="spacingAndGlyphs" x="-21.5">19°52'0&quot;N</text>
<text transform="translate(11.4,167.3) rotate(-90)" font-size="10" textLength="43" lengthAdjust="spacingAndGlyphs" x="-21.5">19°48'0&quot;N</text>
<text transform="translate(11.4,287.9) rotate(-90)" font-size="10" textLength="43" lengthAdjust="spacingAndGlyphs" x="-21.5">19°44'0&quot;N</text>
<text x="2.1" y="366.5" font-size="9.9" textLength="47.2" lengthAdjust="spacingAndGlyphs">110°59'0&quot;E</text>
<text x="62.0" y="366.5" font-size="9.9" textLength="41.6" lengthAdjust="spacingAndGlyphs">111°1'0&quot;E</text>
<text transform="translate(45.2,147.5) rotate(90)" font-size="10.7" textLength="89.2" lengthAdjust="spacingAndGlyphs">19.7810, 111.0021</text>
<text transform="translate(24.5,234.3) rotate(90)" font-size="13.3" textLength="62.6" lengthAdjust="spacingAndGlyphs" stroke-width="0.05">Land Area</text>
<text x="19.1" y="349.6" font-size="12.9" textLength="17.6" lengthAdjust="spacingAndGlyphs">(A)</text>
<rect x="105.4" y="26.8" width="8.0" height="329.3" fill="url(#parula)" stroke="#7a7a40" stroke-opacity="0.45" stroke-width="0.5"/>
<line x1="111.2" y1="47.8" x2="113.4" y2="47.8" stroke="#333" stroke-width="0.6"/>
<text transform="translate(121.0,50.9) scale(0.92,1)" font-size="9.3" text-anchor="middle">14</text>
<line x1="111.2" y1="101.7" x2="113.4" y2="101.7" stroke="#333" stroke-width="0.6"/>
<text transform="translate(121.0,104.8) scale(0.92,1)" font-size="9.3" text-anchor="middle">12</text>
<line x1="111.2" y1="155.6" x2="113.4" y2="155.6" stroke="#333" stroke-width="0.6"/>
<text transform="translate(121.0,158.7) scale(0.92,1)" font-size="9.3" text-anchor="middle">10</text>
<line x1="111.2" y1="209.5" x2="113.4" y2="209.5" stroke="#333" stroke-width="0.6"/>
<text transform="translate(121.0,212.6) scale(0.92,1)" font-size="9.3" text-anchor="middle">8</text>
<line x1="111.2" y1="263.4" x2="113.4" y2="263.4" stroke="#333" stroke-width="0.6"/>
<text transform="translate(121.0,266.5) scale(0.92,1)" font-size="9.3" text-anchor="middle">6</text>
<line x1="111.2" y1="317.3" x2="113.4" y2="317.3" stroke="#333" stroke-width="0.6"/>
<text transform="translate(121.0,320.4) scale(0.92,1)" font-size="9.3" text-anchor="middle">4</text>
</g>
<!-- panel B -->
<g id="panelB">
<line x1="146.8" y1="70.8" x2="224.5" y2="70.8" stroke="#e2e2e2" stroke-width="0.7" opacity="1"/>
<line x1="146.8" y1="170.6" x2="224.5" y2="170.6" stroke="#e2e2e2" stroke-width="0.7" opacity="1"/>
<line x1="146.8" y1="270.9" x2="224.5" y2="270.9" stroke="#e2e2e2" stroke-width="0.7" opacity="1"/>
<line x1="192.5" y1="29.3" x2="192.5" y2="352.1" stroke="#e2e2e2" stroke-width="0.7" opacity="1"/>
<g transform="translate(143.8,26.3)" clip-path="url(#dataclip)"><g transform="rotate(25)" filter="url(#fB)"><g transform="rotate(-25)">
<rect x="-200" y="-200" width="600" height="800" fill="url(#gB0)"/>
<polygon points="70,120 90,120 90,330 62,330 66,250" fill="#000" opacity="0.035"/>
<polygon points="15.9,0.0 16.7,3.0 17.5,6.0 18.2,9.0 19.0,12.0 19.8,15.0 20.6,18.0 21.3,21.0 22.1,24.0 22.9,27.0 23.7,30.0 24.6,33.0 25.5,36.0 26.4,39.0 27.3,42.0 28.2,45.0 29.2,48.0 30.1,51.0 31.0,54.0 32.0,57.0 33.0,60.0 33.9,63.0 34.9,66.0 35.9,69.0 36.9,72.0 37.8,75.0 38.7,78.0 39.5,81.0 40.4,84.0 41.2,87.0 42.1,90.0 42.9,93.0 43.8,96.0 44.9,99.0 46.0,102.0 46.9,105.0 47.7,108.0 48.3,111.0 48.5,114.0 48.8,117.0 49.0,120.0 49.3,123.0 49.6,126.0 49.8,129.0 49.9,132.0 50.0,135.0 50.1,138.0 50.2,141.0 50.3,144.0 50.4,147.0 50.6,150.0 50.7,153.0 50.8,156.0 50.9,159.0 51.0,162.0 51.1,165.0 51.2,168.0 51.3,171.0 51.4,174.0 51.5,177.0 51.5,180.0 51.6,183.0 51.7,186.0 51.8,189.0 51.9,192.0 52.0,195.0 52.1,198.0 52.2,201.0 52.4,204.0 52.6,207.0 52.8,210.0 53.0,213.0 53.2,216.0 53.4,219.0 53.6,222.0 53.8,225.0 54.0,228.0 54.2,231.0 54.4,234.0 54.6,237.0 54.8,240.0 55.0,243.0 55.4,246.0 55.8,249.0 56.3,252.0 56.7,255.0 57.1,258.0 57.6,261.0 58.0,264.0 58.5,267.0 59.0,270.0 59.5,273.0 60.0,276.0 60.6,279.0 61.1,282.0 61.7,285.0 62.5,288.0 63.3,291.0 64.2,294.0 65.1,297.0 66.0,300.0 67.0,303.0 68.0,306.0 69.1,309.0 70.3,312.0 71.8,315.0 73.2,318.0 73.5,318.5 61.1,318.5 60.9,318.0 59.5,315.0 58.1,312.0 56.9,309.0 55.8,306.0 54.8,303.0 53.9,300.0 53.0,297.0 52.1,294.0 51.4,291.0 50.6,288.0 49.8,285.0 49.2,282.0 48.8,279.0 48.3,276.0 47.8,273.0 47.4,270.0 46.9,267.0 46.4,264.0 46.0,261.0 45.7,258.0 45.3,255.0 44.9,252.0 44.5,249.0 44.1,246.0 43.8,243.0 43.6,240.0 43.4,237.0 43.3,234.0 43.1,231.0 43.0,228.0 42.8,225.0 42.7,222.0 42.5,219.0 42.3,216.0 42.2,213.0 42.0,210.0 41.9,207.0 41.7,204.0 41.6,201.0 41.5,198.0 41.4,195.0 41.3,192.0 41.3,189.0 41.2,186.0 41.1,183.0 41.0,180.0 40.9,177.0 40.8,174.0 40.7,171.0 40.6,168.0 40.5,165.0 40.4,162.0 40.3,159.0 40.2,156.0 40.2,153.0 40.1,150.0 40.0,147.0 39.9,144.0 39.8,141.0 39.7,138.0 39.6,135.0 39.5,132.0 39.4,129.0 39.2,126.0 38.9,123.0 38.5,120.0 38.3,117.0 38.1,114.0 37.9,111.0 37.3,108.0 36.5,105.0 35.6,102.0 34.5,99.0 33.4,96.0 32.5,93.0 31.7,90.0 30.8,87.0 30.0,84.0 29.2,81.0 28.3,78.0 27.5,75.0 26.5,72.0 25.6,69.0 24.6,66.0 23.6,63.0 22.6,60.0 21.7,57.0 20.7,54.0 19.8,51.0 18.9,48.0 18.0,45.0 17.0,42.0 16.1,39.0 15.2,36.0 14.3,33.0 13.4,30.0 12.6,27.0 11.8,24.0 11.1,21.0 10.3,18.0 9.6,15.0 8.8,12.0 8.0,9.0 7.3,6.0 6.5,3.0 5.7,0.0" fill="url(#gB1)"/>
<polygon points="14.1,0.0 14.9,3.0 15.7,6.0 16.4,9.0 17.2,12.0 18.0,15.0 18.7,18.0 19.5,21.0 20.3,24.0 21.0,27.0 21.8,30.0 22.7,33.0 23.7,36.0 24.6,39.0 25.5,42.0 26.4,45.0 27.3,48.0 28.2,51.0 29.2,54.0 30.1,57.0 31.1,60.0 32.1,63.0 33.1,66.0 34.0,69.0 35.0,72.0 35.9,75.0 36.8,78.0 37.6,81.0 38.5,84.0 39.3,87.0 40.2,90.0 41.0,93.0 41.9,96.0 43.0,99.0 44.1,102.0 45.0,105.0 45.8,108.0 46.4,111.0 46.6,114.0 46.8,117.0 47.1,120.0 47.4,123.0 47.7,126.0 47.9,129.0 48.0,132.0 48.1,135.0 48.2,138.0 48.3,141.0 48.4,144.0 48.5,147.0 48.6,150.0 48.7,153.0 48.8,156.0 48.9,159.0 49.0,162.0 49.1,165.0 49.2,168.0 49.3,171.0 49.4,174.0 49.5,177.0 49.6,180.0 49.7,183.0 49.8,186.0 49.8,189.0 49.9,192.0 50.0,195.0 50.1,198.0 50.2,201.0 50.4,204.0 50.5,207.0 50.7,210.0 50.9,213.0 51.1,216.0 51.3,219.0 51.5,222.0 51.7,225.0 51.9,228.0 52.0,231.0 52.2,234.0 52.4,237.0 52.6,240.0 52.8,243.0 53.2,246.0 53.6,249.0 54.0,252.0 54.4,255.0 54.8,258.0 55.3,261.0 55.7,264.0 56.2,267.0 56.7,270.0 57.2,273.0 57.7,276.0 58.2,279.0 58.7,282.0 59.3,285.0 60.1,288.0 60.9,291.0 61.7,294.0 62.6,297.0 63.5,300.0 64.5,303.0 65.4,306.0 66.6,309.0 67.8,312.0 69.2,315.0 70.6,318.0 70.9,318.5 61.1,318.5 60.9,318.0 59.5,315.0 58.1,312.0 56.9,309.0 55.8,306.0 54.8,303.0 53.9,300.0 53.0,297.0 52.1,294.0 51.4,291.0 50.6,288.0 49.8,285.0 49.2,282.0 48.8,279.0 48.3,276.0 47.8,273.0 47.4,270.0 46.9,267.0 46.4,264.0 46.0,261.0 45.7,258.0 45.3,255.0 44.9,252.0 44.5,249.0 44.1,246.0 43.8,243.0 43.6,240.0 43.4,237.0 43.3,234.0 43.1,231.0 43.0,228.0 42.8,225.0 42.7,222.0 42.5,219.0 42.3,216.0 42.2,213.0 42.0,210.0 41.9,207.0 41.7,204.0 41.6,201.0 41.5,198.0 41.4,195.0 41.3,192.0 41.3,189.0 41.2,186.0 41.1,183.0 41.0,180.0 40.9,177.0 40.8,174.0 40.7,171.0 40.6,168.0 40.5,165.0 40.4,162.0 40.3,159.0 40.2,156.0 40.2,153.0 40.1,150.0 40.0,147.0 39.9,144.0 39.8,141.0 39.7,138.0 39.6,135.0 39.5,132.0 39.4,129.0 39.2,126.0 38.9,123.0 38.5,120.0 38.3,117.0 38.1,114.0 37.9,111.0 37.3,108.0 36.5,105.0 35.6,102.0 34.5,99.0 33.4,96.0 32.5,93.0 31.7,90.0 30.8,87.0 30.0,84.0 29.2,81.0 28.3,78.0 27.5,75.0 26.5,72.0 25.6,69.0 24.6,66.0 23.6,63.0 22.6,60.0 21.7,57.0 20.7,54.0 19.8,51.0 18.9,48.0 18.0,45.0 17.0,42.0 16.1,39.0 15.2,36.0 14.3,33.0 13.4,30.0 12.6,27.0 11.8,24.0 11.1,21.0 10.3,18.0 9.6,15.0 8.8,12.0 8.0,9.0 7.3,6.0 6.5,3.0 5.7,0.0" fill="#6b6b6b"/>
<polygon points="13.3,0.0 14.1,3.0 14.9,6.0 15.6,9.0 16.4,12.0 17.2,15.0 17.9,18.0 18.7,21.0 19.5,24.0 20.2,27.0 21.0,30.0 21.9,33.0 22.8,36.0 23.7,39.0 24.7,42.0 25.6,45.0 26.5,48.0 27.4,51.0 28.3,54.0 29.3,57.0 30.3,60.0 31.3,63.0 32.2,66.0 33.2,69.0 34.2,72.0 35.1,75.0 36.0,78.0 36.8,81.0 37.6,84.0 38.5,87.0 39.3,90.0 40.2,93.0 41.1,96.0 42.2,99.0 43.3,102.0 44.2,105.0 44.9,108.0 45.6,111.0 45.8,114.0 46.0,117.0 46.2,120.0 46.5,123.0 46.9,126.0 47.0,129.0 47.1,132.0 47.2,135.0 47.3,138.0 47.4,141.0 47.5,144.0 47.6,147.0 47.7,150.0 47.8,153.0 47.9,156.0 48.0,159.0 48.1,162.0 48.2,165.0 48.3,168.0 48.4,171.0 48.5,174.0 48.6,177.0 48.7,180.0 48.8,183.0 48.9,186.0 49.0,189.0 49.0,192.0 49.1,195.0 49.2,198.0 49.3,201.0 49.4,204.0 49.6,207.0 49.8,210.0 50.0,213.0 50.1,216.0 50.3,219.0 50.5,222.0 50.7,225.0 50.8,228.0 51.0,231.0 51.2,234.0 51.4,237.0 51.5,240.0 51.7,243.0 52.1,246.0 52.5,249.0 52.9,252.0 53.3,255.0 53.7,258.0 54.1,261.0 54.5,264.0 55.0,267.0 55.5,270.0 56.0,273.0 56.4,276.0 56.9,279.0 57.4,282.0 58.0,285.0 58.8,288.0 59.6,291.0 60.4,294.0 61.3,297.0 62.2,300.0 63.1,303.0 64.1,306.0 65.2,309.0 66.4,312.0 67.8,315.0 69.3,318.0 69.5,318.5 61.1,318.5 60.9,318.0 59.5,315.0 58.1,312.0 56.9,309.0 55.8,306.0 54.8,303.0 53.9,300.0 53.0,297.0 52.1,294.0 51.4,291.0 50.6,288.0 49.8,285.0 49.2,282.0 48.8,279.0 48.3,276.0 47.8,273.0 47.4,270.0 46.9,267.0 46.4,264.0 46.0,261.0 45.7,258.0 45.3,255.0 44.9,252.0 44.5,249.0 44.1,246.0 43.8,243.0 43.6,240.0 43.4,237.0 43.3,234.0 43.1,231.0 43.0,228.0 42.8,225.0 42.7,222.0 42.5,219.0 42.3,216.0 42.2,213.0 42.0,210.0 41.9,207.0 41.7,204.0 41.6,201.0 41.5,198.0 41.4,195.0 41.3,192.0 41.3,189.0 41.2,186.0 41.1,183.0 41.0,180.0 40.9,177.0 40.8,174.0 40.7,171.0 40.6,168.0 40.5,165.0 40.4,162.0 40.3,159.0 40.2,156.0 40.2,153.0 40.1,150.0 40.0,147.0 39.9,144.0 39.8,141.0 39.7,138.0 39.6,135.0 39.5,132.0 39.4,129.0 39.2,126.0 38.9,123.0 38.5,120.0 38.3,117.0 38.1,114.0 37.9,111.0 37.3,108.0 36.5,105.0 35.6,102.0 34.5,99.0 33.4,96.0 32.5,93.0 31.7,90.0 30.8,87.0 30.0,84.0 29.2,81.0 28.3,78.0 27.5,75.0 26.5,72.0 25.6,69.0 24.6,66.0 23.6,63.0 22.6,60.0 21.7,57.0 20.7,54.0 19.8,51.0 18.9,48.0 18.0,45.0 17.0,42.0 16.1,39.0 15.2,36.0 14.3,33.0 13.4,30.0 12.6,27.0 11.8,24.0 11.1,21.0 10.3,18.0 9.6,15.0 8.8,12.0 8.0,9.0 7.3,6.0 6.5,3.0 5.7,0.0" fill="#9e9e9e"/>
<polygon points="12.6,0.0 13.4,3.0 14.2,6.0 14.9,9.0 15.7,12.0 16.5,15.0 17.2,18.0 18.0,21.0 18.8,24.0 19.5,27.0 20.3,30.0 21.2,33.0 22.1,36.0 23.0,39.0 24.0,42.0 24.9,45.0 25.8,48.0 26.7,51.0 27.6,54.0 28.6,57.0 29.6,60.0 30.6,63.0 31.5,66.0 32.5,69.0 33.5,72.0 34.4,75.0 35.3,78.0 36.1,81.0 36.9,84.0 37.8,87.0 38.6,90.0 39.5,93.0 40.4,96.0 41.5,99.0 42.6,102.0 43.5,105.0 44.2,108.0 44.9,111.0 45.1,114.0 45.3,117.0 45.5,120.0 45.8,123.0 46.2,126.0 46.3,129.0 46.4,132.0 46.5,135.0 46.6,138.0 46.7,141.0 46.8,144.0 46.9,147.0 47.0,150.0 47.1,153.0 47.2,156.0 47.3,159.0 47.4,162.0 47.5,165.0 47.6,168.0 47.7,171.0 47.8,174.0 47.9,177.0 48.0,180.0 48.1,183.0 48.2,186.0 48.3,189.0 48.3,192.0 48.4,195.0 48.5,198.0 48.6,201.0 48.7,204.0 48.9,207.0 49.1,210.0 49.2,213.0 49.4,216.0 49.6,219.0 49.7,222.0 49.9,225.0 50.0,228.0 50.2,231.0 50.4,234.0 50.5,237.0 50.7,240.0 50.9,243.0 51.2,246.0 51.6,249.0 52.0,252.0 52.4,255.0 52.8,258.0 53.2,261.0 53.6,264.0 54.1,267.0 54.6,270.0 55.0,273.0 55.5,276.0 56.0,279.0 56.4,282.0 57.0,285.0 57.8,288.0 58.6,291.0 59.4,294.0 60.3,297.0 61.2,300.0 62.1,303.0 63.0,306.0 64.1,309.0 65.3,312.0 66.8,315.0 68.2,318.0 68.4,318.5 61.1,318.5 60.9,318.0 59.5,315.0 58.1,312.0 56.9,309.0 55.8,306.0 54.8,303.0 53.9,300.0 53.0,297.0 52.1,294.0 51.4,291.0 50.6,288.0 49.8,285.0 49.2,282.0 48.8,279.0 48.3,276.0 47.8,273.0 47.4,270.0 46.9,267.0 46.4,264.0 46.0,261.0 45.7,258.0 45.3,255.0 44.9,252.0 44.5,249.0 44.1,246.0 43.8,243.0 43.6,240.0 43.4,237.0 43.3,234.0 43.1,231.0 43.0,228.0 42.8,225.0 42.7,222.0 42.5,219.0 42.3,216.0 42.2,213.0 42.0,210.0 41.9,207.0 41.7,204.0 41.6,201.0 41.5,198.0 41.4,195.0 41.3,192.0 41.3,189.0 41.2,186.0 41.1,183.0 41.0,180.0 40.9,177.0 40.8,174.0 40.7,171.0 40.6,168.0 40.5,165.0 40.4,162.0 40.3,159.0 40.2,156.0 40.2,153.0 40.1,150.0 40.0,147.0 39.9,144.0 39.8,141.0 39.7,138.0 39.6,135.0 39.5,132.0 39.4,129.0 39.2,126.0 38.9,123.0 38.5,120.0 38.3,117.0 38.1,114.0 37.9,111.0 37.3,108.0 36.5,105.0 35.6,102.0 34.5,99.0 33.4,96.0 32.5,93.0 31.7,90.0 30.8,87.0 30.0,84.0 29.2,81.0 28.3,78.0 27.5,75.0 26.5,72.0 25.6,69.0 24.6,66.0 23.6,63.0 22.6,60.0 21.7,57.0 20.7,54.0 19.8,51.0 18.9,48.0 18.0,45.0 17.0,42.0 16.1,39.0 15.2,36.0 14.3,33.0 13.4,30.0 12.6,27.0 11.8,24.0 11.1,21.0 10.3,18.0 9.6,15.0 8.8,12.0 8.0,9.0 7.3,6.0 6.5,3.0 5.7,0.0" fill="#ffffff"/>
</g></g>
<path d="M65.0 166.8 L70.0 168.6" stroke="#5b3fd0" stroke-width="0.9" stroke-linecap="round" fill="none" opacity="0.85"/>
</g>
<line x1="146.8" y1="70.8" x2="224.5" y2="70.8" stroke="#444" stroke-width="0.7" opacity="0.09"/>
<line x1="146.8" y1="170.6" x2="224.5" y2="170.6" stroke="#444" stroke-width="0.7" opacity="0.09"/>
<line x1="146.8" y1="270.9" x2="224.5" y2="270.9" stroke="#444" stroke-width="0.7" opacity="0.09"/>
<line x1="192.5" y1="29.3" x2="192.5" y2="352.1" stroke="#444" stroke-width="0.7" opacity="0.09"/>
<path fill-rule="evenodd" fill="#fff" d="M143.8 26.3h83.7v328.8h-83.7z M147.0 29.5h77.3v322.4h-77.3z"/>
<line x1="144.15" y1="26.30" x2="144.15" y2="355.10" stroke="#777" stroke-width="0.7"/>
<line x1="146.80" y1="29.50" x2="146.80" y2="351.90" stroke="#444" stroke-width="0.7"/>
<line x1="227.10" y1="26.30" x2="227.10" y2="355.10" stroke="#b5b5b5" stroke-width="0.9"/>
<line x1="224.50" y1="29.50" x2="224.50" y2="351.90" stroke="#ddd" stroke-width="0.5"/>
<line x1="143.80" y1="26.65" x2="227.50" y2="26.65" stroke="#555" stroke-width="0.7"/>
<line x1="147.00" y1="29.25" x2="224.30" y2="29.25" stroke="#888" stroke-width="0.6"/>
<line x1="143.80" y1="354.75" x2="227.50" y2="354.75" stroke="#444" stroke-width="0.7"/>
<line x1="147.00" y1="352.15" x2="224.30" y2="352.15" stroke="#666" stroke-width="0.6"/>
<rect x="143.8" y="26.3" width="24.2" height="3.2" fill="#000"/>
<rect x="198.0" y="26.3" width="29.5" height="3.2" fill="#000"/>
<rect x="143.8" y="351.9" width="28.6" height="3.2" fill="#000"/>
<rect x="201.8" y="351.9" width="25.7" height="3.2" fill="#000"/>
<rect x="143.8" y="26.3" width="3.2" height="6.7" fill="#000"/>
<rect x="143.8" y="65.1" width="3.2" height="29.8" fill="#000"/>
<rect x="143.8" y="124.5" width="3.2" height="29.7" fill="#000"/>
<rect x="143.8" y="184.0" width="3.2" height="29.7" fill="#000"/>
<rect x="143.8" y="243.5" width="3.2" height="29.7" fill="#000"/>
<rect x="143.8" y="303.0" width="3.2" height="29.7" fill="#000"/>
<rect x="224.3" y="26.3" width="3.2" height="3.2" fill="#000"/>
<rect x="224.3" y="59.5" width="3.2" height="29.1" fill="#000"/>
<rect x="224.3" y="118.5" width="3.2" height="30.0" fill="#000"/>
<rect x="224.3" y="178.5" width="3.2" height="29.1" fill="#000"/>
<rect x="224.3" y="237.5" width="3.2" height="30.0" fill="#000"/>
<rect x="224.3" y="297.5" width="3.2" height="29.6" fill="#000"/>
<line x1="142.6" y1="46.0" x2="145.0" y2="46.0" stroke="#222" stroke-width="0.8"/>
<line x1="142.6" y1="166.7" x2="145.0" y2="166.7" stroke="#222" stroke-width="0.8"/>
<line x1="142.6" y1="287.3" x2="145.0" y2="287.3" stroke="#222" stroke-width="0.8"/>
<line x1="155.0" y1="353.5" x2="155.0" y2="356.3" stroke="#222" stroke-width="0.8"/>
<line x1="183.8" y1="353.5" x2="183.8" y2="356.3" stroke="#222" stroke-width="0.8"/>
<line x1="212.2" y1="353.5" x2="212.2" y2="356.3" stroke="#222" stroke-width="0.8"/>
<text transform="translate(141.3,46.5) rotate(-90)" font-size="10" textLength="43" lengthAdjust="spacingAndGlyphs" x="-21.5">19°52'0&quot;N</text>
<text transform="translate(141.3,167.0) rotate(-90)" font-size="10" textLength="43" lengthAdjust="spacingAndGlyphs" x="-21.5">19°48'0&quot;N</text>
<text transform="translate(141.3,287.6) rotate(-90)" font-size="10" textLength="43" lengthAdjust="spacingAndGlyphs" x="-21.5">19°44'0&quot;N</text>
<text x="131.7" y="365.3" font-size="9.9" textLength="47.2" lengthAdjust="spacingAndGlyphs">110°59'0&quot;E</text>
<text x="191.6" y="365.3" font-size="9.9" textLength="41.6" lengthAdjust="spacingAndGlyphs">111°1'0&quot;E</text>
<text transform="translate(176.0,147.8) rotate(90)" font-size="10.7" textLength="89.2" lengthAdjust="spacingAndGlyphs">19.7810, 111.0021</text>
<text transform="translate(154.1,233.7) rotate(90)" font-size="13.3" textLength="62.6" lengthAdjust="spacingAndGlyphs" stroke-width="0.05">Land Area</text>
<text x="148.7" y="349.9" font-size="12.9" textLength="17.6" lengthAdjust="spacingAndGlyphs">(B)</text>
<rect x="235.0" y="25.6" width="8.0" height="329.9" fill="url(#parula)" stroke="#7a7a40" stroke-opacity="0.45" stroke-width="0.5"/>
<line x1="240.8" y1="56.7" x2="243.0" y2="56.7" stroke="#333" stroke-width="0.6"/>
<text transform="translate(250.3,59.8) scale(0.92,1)" font-size="9.3" text-anchor="middle">12</text>
<line x1="240.8" y1="106.6" x2="243.0" y2="106.6" stroke="#333" stroke-width="0.6"/>
<text transform="translate(250.3,109.7) scale(0.92,1)" font-size="9.3" text-anchor="middle">10</text>
<line x1="240.8" y1="156.6" x2="243.0" y2="156.6" stroke="#333" stroke-width="0.6"/>
<text transform="translate(250.3,159.7) scale(0.92,1)" font-size="9.3" text-anchor="middle">8</text>
<line x1="240.8" y1="206.5" x2="243.0" y2="206.5" stroke="#333" stroke-width="0.6"/>
<text transform="translate(250.3,209.6) scale(0.92,1)" font-size="9.3" text-anchor="middle">6</text>
<line x1="240.8" y1="256.4" x2="243.0" y2="256.4" stroke="#333" stroke-width="0.6"/>
<text transform="translate(250.3,259.5) scale(0.92,1)" font-size="9.3" text-anchor="middle">4</text>
<line x1="240.8" y1="306.3" x2="243.0" y2="306.3" stroke="#333" stroke-width="0.6"/>
<text transform="translate(250.3,309.4) scale(0.92,1)" font-size="9.3" text-anchor="middle">2</text>
<text transform="translate(250.3,359.4) scale(0.92,1)" font-size="9.3" text-anchor="middle">0</text>
</g>
<!-- panel C -->
<g id="panelC">
<line x1="286.3" y1="70.8" x2="364.0" y2="70.8" stroke="#e2e2e2" stroke-width="0.7" opacity="1"/>
<line x1="286.3" y1="170.6" x2="364.0" y2="170.6" stroke="#e2e2e2" stroke-width="0.7" opacity="1"/>
<line x1="286.3" y1="270.9" x2="364.0" y2="270.9" stroke="#e2e2e2" stroke-width="0.7" opacity="1"/>
<line x1="332.0" y1="29.0" x2="332.0" y2="352.0" stroke="#e2e2e2" stroke-width="0.7" opacity="1"/>
<g transform="translate(283.3,26.0)" clip-path="url(#dataclip)"><g transform="rotate(0)" filter="url(#fC)"><g transform="rotate(0)">
<rect x="-200" y="-200" width="600" height="800" fill="#d7d7d7"/>
<rect x="77.5" y="0" width="12" height="150" fill="#e8e8e8"/>
<ellipse cx="85" cy="2" rx="23" ry="42" fill="#f2f2f2"/>
<ellipse cx="85" cy="2" rx="19" ry="33" fill="#ffffff"/>
<path d="M49 20 L44 34 L39 45" stroke="#999999" stroke-width="3.2" fill="none" stroke-linecap="round"/>
<path d="M54 50 L50 66 L46 82 L49 100" stroke="#949494" stroke-width="5" fill="none" stroke-linecap="round"/>
<path d="M44 72 L46 92 L50 106" stroke="#8f8f8f" stroke-width="6" fill="none" stroke-linecap="round"/>
<polygon points="22.7,0.0 23.4,3.0 24.0,6.0 24.7,9.0 25.4,12.0 26.0,15.0 26.7,18.0 27.3,21.0 28.0,24.0 28.6,27.0 29.3,30.0 30.1,33.0 30.9,36.0 31.7,39.0 32.5,42.0 33.3,45.0 34.1,48.0 34.9,51.0 35.7,54.0 37.6,57.0 40.0,60.0 42.4,63.0 44.7,66.0 47.1,69.0 48.7,72.0 49.8,75.0 50.8,78.0 51.9,81.0 52.9,84.0 54.0,87.0 55.0,90.0 56.1,93.0 57.1,96.0 58.4,99.0 58.9,102.0 58.8,105.0 58.5,108.0 58.1,111.0 57.2,114.0 56.4,117.0 55.5,120.0 55.5,123.0 55.4,126.0 55.2,129.0 54.9,132.0 54.6,135.0 54.8,138.0 55.1,141.0 55.4,144.0 55.7,147.0 56.0,150.0 56.3,153.0 56.5,156.0 56.8,159.0 57.1,162.0 57.4,165.0 57.7,168.0 57.9,171.0 58.2,174.0 58.5,177.0 58.8,180.0 59.0,183.0 59.3,186.0 59.6,189.0 59.9,192.0 60.1,195.0 60.4,198.0 60.7,201.0 61.0,204.0 61.4,207.0 61.8,210.0 62.2,213.0 62.5,216.0 62.9,219.0 63.3,222.0 63.7,225.0 64.1,228.0 64.5,231.0 64.8,234.0 65.2,237.0 65.6,240.0 66.8,243.0 68.1,246.0 69.5,249.0 70.9,252.0 72.3,255.0 73.7,258.0 75.0,261.0 76.4,264.0 77.9,267.0 79.4,270.0 82.2,273.0 85.1,276.0 88.0,279.0 90.8,282.0 93.8,285.0 97.0,288.0 99.7,291.0 101.5,294.0 103.4,297.0 105.3,300.0 107.2,303.0 109.1,306.0 111.2,309.0 113.4,312.0 115.8,315.0 118.2,318.0 118.6,318.5 61.1,318.5 60.9,318.0 59.5,315.0 58.1,312.0 56.9,309.0 55.8,306.0 54.8,303.0 53.9,300.0 53.0,297.0 52.1,294.0 51.4,291.0 50.6,288.0 49.8,285.0 49.2,282.0 48.8,279.0 48.3,276.0 47.8,273.0 47.4,270.0 46.9,267.0 46.4,264.0 46.0,261.0 45.7,258.0 45.3,255.0 44.9,252.0 44.5,249.0 44.1,246.0 43.8,243.0 43.6,240.0 43.4,237.0 43.3,234.0 43.1,231.0 43.0,228.0 42.8,225.0 42.7,222.0 42.5,219.0 42.3,216.0 42.2,213.0 42.0,210.0 41.9,207.0 41.7,204.0 41.6,201.0 41.5,198.0 41.4,195.0 41.3,192.0 41.3,189.0 41.2,186.0 41.1,183.0 41.0,180.0 40.9,177.0 40.8,174.0 40.7,171.0 40.6,168.0 40.5,165.0 40.4,162.0 40.3,159.0 40.2,156.0 40.2,153.0 40.1,150.0 40.0,147.0 39.9,144.0 39.8,141.0 39.7,138.0 39.6,135.0 39.5,132.0 39.4,129.0 39.2,126.0 38.9,123.0 38.5,120.0 38.3,117.0 38.1,114.0 37.9,111.0 37.3,108.0 36.5,105.0 35.6,102.0 34.5,99.0 33.4,96.0 32.5,93.0 31.7,90.0 30.8,87.0 30.0,84.0 29.2,81.0 28.3,78.0 27.5,75.0 26.5,72.0 25.6,69.0 24.6,66.0 23.6,63.0 22.6,60.0 21.7,57.0 20.7,54.0 19.8,51.0 18.9,48.0 18.0,45.0 17.0,42.0 16.1,39.0 15.2,36.0 14.3,33.0 13.4,30.0 12.6,27.0 11.8,24.0 11.1,21.0 10.3,18.0 9.6,15.0 8.8,12.0 8.0,9.0 7.3,6.0 6.5,3.0 5.7,0.0" fill="#b8b8b8"/>
<polygon points="19.2,0.0 19.9,3.0 20.6,6.0 21.3,9.0 22.0,12.0 22.6,15.0 23.3,18.0 24.0,21.0 24.7,24.0 25.4,27.0 26.1,30.0 26.9,33.0 27.7,36.0 28.6,39.0 29.4,42.0 30.2,45.0 31.1,48.0 31.9,51.0 32.7,54.0 34.3,57.0 36.3,60.0 38.3,63.0 40.3,66.0 42.2,69.0 43.7,72.0 44.8,75.0 45.8,78.0 46.9,81.0 47.9,84.0 49.0,87.0 50.0,90.0 51.1,93.0 52.1,96.0 53.4,99.0 54.1,102.0 54.3,105.0 54.3,108.0 54.2,111.0 53.6,114.0 53.1,117.0 52.5,120.0 52.7,123.0 52.8,126.0 52.8,129.0 52.7,132.0 52.6,135.0 52.8,138.0 53.0,141.0 53.2,144.0 53.4,147.0 53.6,150.0 53.8,153.0 54.1,156.0 54.3,159.0 54.5,162.0 54.7,165.0 54.9,168.0 55.1,171.0 55.3,174.0 55.5,177.0 55.7,180.0 55.9,183.0 56.1,186.0 56.3,189.0 56.5,192.0 56.7,195.0 57.0,198.0 57.2,201.0 57.5,204.0 57.8,207.0 58.2,210.0 58.5,213.0 58.8,216.0 59.2,219.0 59.5,222.0 59.9,225.0 60.2,228.0 60.6,231.0 60.9,234.0 61.3,237.0 61.6,240.0 62.5,243.0 63.5,246.0 64.6,249.0 65.7,252.0 66.8,255.0 67.9,258.0 68.9,261.0 70.0,264.0 71.2,267.0 72.4,270.0 74.9,273.0 77.5,276.0 80.1,279.0 82.6,282.0 85.3,285.0 88.2,288.0 91.0,291.0 93.8,294.0 96.7,297.0 99.6,300.0 102.5,303.0 105.1,306.0 107.2,309.0 109.4,312.0 111.8,315.0 114.2,318.0 114.6,318.5 61.1,318.5 60.9,318.0 59.5,315.0 58.1,312.0 56.9,309.0 55.8,306.0 54.8,303.0 53.9,300.0 53.0,297.0 52.1,294.0 51.4,291.0 50.6,288.0 49.8,285.0 49.2,282.0 48.8,279.0 48.3,276.0 47.8,273.0 47.4,270.0 46.9,267.0 46.4,264.0 46.0,261.0 45.7,258.0 45.3,255.0 44.9,252.0 44.5,249.0 44.1,246.0 43.8,243.0 43.6,240.0 43.4,237.0 43.3,234.0 43.1,231.0 43.0,228.0 42.8,225.0 42.7,222.0 42.5,219.0 42.3,216.0 42.2,213.0 42.0,210.0 41.9,207.0 41.7,204.0 41.6,201.0 41.5,198.0 41.4,195.0 41.3,192.0 41.3,189.0 41.2,186.0 41.1,183.0 41.0,180.0 40.9,177.0 40.8,174.0 40.7,171.0 40.6,168.0 40.5,165.0 40.4,162.0 40.3,159.0 40.2,156.0 40.2,153.0 40.1,150.0 40.0,147.0 39.9,144.0 39.8,141.0 39.7,138.0 39.6,135.0 39.5,132.0 39.4,129.0 39.2,126.0 38.9,123.0 38.5,120.0 38.3,117.0 38.1,114.0 37.9,111.0 37.3,108.0 36.5,105.0 35.6,102.0 34.5,99.0 33.4,96.0 32.5,93.0 31.7,90.0 30.8,87.0 30.0,84.0 29.2,81.0 28.3,78.0 27.5,75.0 26.5,72.0 25.6,69.0 24.6,66.0 23.6,63.0 22.6,60.0 21.7,57.0 20.7,54.0 19.8,51.0 18.9,48.0 18.0,45.0 17.0,42.0 16.1,39.0 15.2,36.0 14.3,33.0 13.4,30.0 12.6,27.0 11.8,24.0 11.1,21.0 10.3,18.0 9.6,15.0 8.8,12.0 8.0,9.0 7.3,6.0 6.5,3.0 5.7,0.0" fill="#9e9e9e"/>
<polygon points="11.7,0.0 12.5,3.0 13.3,6.0 14.0,9.0 14.8,12.0 15.6,15.0 16.3,18.0 17.1,21.0 17.8,24.0 18.6,27.0 19.4,30.0 20.3,33.0 21.2,36.0 22.1,39.0 23.0,42.0 24.0,45.0 24.9,48.0 25.8,51.0 26.7,54.0 27.7,57.0 28.6,60.0 29.6,63.0 30.6,66.0 31.6,69.0 32.5,72.0 33.5,75.0 34.3,78.0 35.2,81.0 36.0,84.0 36.8,87.0 37.7,90.0 38.5,93.0 39.4,96.0 40.5,99.0 41.6,102.0 42.5,105.0 43.3,108.0 43.9,111.0 44.1,114.0 44.3,117.0 44.5,120.0 44.9,123.0 45.2,126.0 45.4,129.0 45.5,132.0 45.6,135.0 45.7,138.0 45.8,141.0 45.9,144.0 46.0,147.0 46.1,150.0 46.2,153.0 46.2,156.0 46.3,159.0 46.4,162.0 46.5,165.0 46.6,168.0 46.7,171.0 46.8,174.0 46.9,177.0 47.0,180.0 47.1,183.0 47.2,186.0 47.3,189.0 47.3,192.0 47.4,195.0 47.5,198.0 47.9,201.0 48.8,204.0 49.7,207.0 50.7,210.0 51.7,213.0 52.6,216.0 53.6,219.0 54.5,222.0 55.5,225.0 56.4,228.0 57.2,231.0 57.7,234.0 58.2,237.0 58.7,240.0 59.2,243.0 59.9,246.0 60.6,249.0 61.4,252.0 62.1,255.0 62.8,258.0 63.5,261.0 64.3,264.0 65.1,267.0 65.9,270.0 67.4,273.0 68.8,276.0 70.3,279.0 71.8,282.0 73.4,285.0 75.2,288.0 77.0,291.0 78.8,294.0 80.7,297.0 82.7,300.0 84.7,303.0 86.7,306.0 88.9,309.0 91.2,312.0 93.7,315.0 96.1,318.0 96.6,318.5 61.1,318.5 60.9,318.0 59.5,315.0 58.1,312.0 56.9,309.0 55.8,306.0 54.8,303.0 53.9,300.0 53.0,297.0 52.1,294.0 51.4,291.0 50.6,288.0 49.8,285.0 49.2,282.0 48.8,279.0 48.3,276.0 47.8,273.0 47.4,270.0 46.9,267.0 46.4,264.0 46.0,261.0 45.7,258.0 45.3,255.0 44.9,252.0 44.5,249.0 44.1,246.0 43.8,243.0 43.6,240.0 43.4,237.0 43.3,234.0 43.1,231.0 43.0,228.0 42.8,225.0 42.7,222.0 42.5,219.0 42.3,216.0 42.2,213.0 42.0,210.0 41.9,207.0 41.7,204.0 41.6,201.0 41.5,198.0 41.4,195.0 41.3,192.0 41.3,189.0 41.2,186.0 41.1,183.0 41.0,180.0 40.9,177.0 40.8,174.0 40.7,171.0 40.6,168.0 40.5,165.0 40.4,162.0 40.3,159.0 40.2,156.0 40.2,153.0 40.1,150.0 40.0,147.0 39.9,144.0 39.8,141.0 39.7,138.0 39.6,135.0 39.5,132.0 39.4,129.0 39.2,126.0 38.9,123.0 38.5,120.0 38.3,117.0 38.1,114.0 37.9,111.0 37.3,108.0 36.5,105.0 35.6,102.0 34.5,99.0 33.4,96.0 32.5,93.0 31.7,90.0 30.8,87.0 30.0,84.0 29.2,81.0 28.3,78.0 27.5,75.0 26.5,72.0 25.6,69.0 24.6,66.0 23.6,63.0 22.6,60.0 21.7,57.0 20.7,54.0 19.8,51.0 18.9,48.0 18.0,45.0 17.0,42.0 16.1,39.0 15.2,36.0 14.3,33.0 13.4,30.0 12.6,27.0 11.8,24.0 11.1,21.0 10.3,18.0 9.6,15.0 8.8,12.0 8.0,9.0 7.3,6.0 6.5,3.0 5.7,0.0" fill="#919191"/>
<polygon points="16.1,0.0 17.0,3.0 17.9,6.0 18.7,9.0 19.6,12.0 20.5,15.0 21.3,18.0 21.9,21.0 22.6,24.0 23.2,27.0 23.8,30.0 24.6,33.0 25.4,36.0 26.2,39.0 27.0,42.0 27.8,45.0 28.6,48.0 29.3,51.0 30.1,54.0 31.3,57.0 32.6,60.0 33.9,63.0 35.2,66.0 36.4,69.0 37.7,72.0 39.0,75.0 40.2,78.0 41.4,81.0 42.6,84.0 43.8,87.0 45.0,90.0 46.0,93.0 46.8,96.0 47.7,99.0 48.7,102.0 49.5,105.0 49.8,108.0 50.0,111.0 49.8,114.0 49.6,117.0 49.3,120.0 49.7,123.0 50.1,126.0 50.4,129.0 50.5,132.0 50.7,135.0 50.9,138.0 51.0,141.0 51.2,144.0 51.4,147.0 51.5,150.0 51.7,153.0 51.8,156.0 52.0,159.0 52.2,162.0 52.3,165.0 52.5,168.0 52.6,171.0 52.7,174.0 52.9,177.0 53.0,180.0 53.2,183.0 53.3,186.0 53.4,189.0 53.6,192.0 53.7,195.0 53.8,198.0 54.0,201.0 54.1,204.0 54.3,207.0 54.5,210.0 54.7,213.0 54.9,216.0 55.1,219.0 55.3,222.0 55.5,225.0 55.7,228.0 56.0,231.0 56.3,234.0 56.6,237.0 56.8,240.0 57.1,243.0 57.6,246.0 58.1,249.0 58.6,252.0 59.2,255.0 59.7,258.0 60.2,261.0 60.7,264.0 61.3,267.0 61.9,270.0 62.5,273.0 63.1,276.0 63.7,279.0 64.3,282.0 65.0,285.0 66.0,288.0 67.0,291.0 68.0,294.0 69.1,297.0 70.3,300.0 71.1,303.0 71.3,306.0 71.6,309.0 71.4,312.0 71.0,315.0 71.2,318.0 71.2,318.5 61.1,318.5 60.9,318.0 59.5,315.0 58.1,312.0 56.9,309.0 55.8,306.0 54.8,303.0 53.9,300.0 53.0,297.0 52.1,294.0 51.4,291.0 50.6,288.0 49.8,285.0 49.2,282.0 48.8,279.0 48.3,276.0 47.8,273.0 47.4,270.0 46.9,267.0 46.4,264.0 46.0,261.0 45.7,258.0 45.3,255.0 44.9,252.0 44.5,249.0 44.1,246.0 43.8,243.0 43.6,240.0 43.4,237.0 43.3,234.0 43.1,231.0 43.0,228.0 42.8,225.0 42.7,222.0 42.5,219.0 42.3,216.0 42.2,213.0 42.0,210.0 41.9,207.0 41.7,204.0 41.6,201.0 41.5,198.0 41.4,195.0 41.3,192.0 41.3,189.0 41.2,186.0 41.1,183.0 41.0,180.0 40.9,177.0 40.8,174.0 40.7,171.0 40.6,168.0 40.5,165.0 40.4,162.0 40.3,159.0 40.2,156.0 40.2,153.0 40.1,150.0 40.0,147.0 39.9,144.0 39.8,141.0 39.7,138.0 39.6,135.0 39.5,132.0 39.4,129.0 39.2,126.0 38.9,123.0 38.5,120.0 38.3,117.0 38.1,114.0 37.9,111.0 37.3,108.0 36.5,105.0 35.6,102.0 34.5,99.0 33.4,96.0 32.5,93.0 31.7,90.0 30.8,87.0 30.0,84.0 29.2,81.0 28.3,78.0 27.5,75.0 26.5,72.0 25.6,69.0 24.6,66.0 23.6,63.0 22.6,60.0 21.7,57.0 20.7,54.0 19.8,51.0 18.9,48.0 18.0,45.0 17.0,42.0 16.1,39.0 15.2,36.0 14.3,33.0 13.4,30.0 12.6,27.0 11.8,24.0 11.1,21.0 10.3,18.0 9.6,15.0 8.8,12.0 8.0,9.0 7.3,6.0 6.5,3.0 5.7,0.0" fill="url(#gC1)"/>
<polygon points="14.3,0.0 15.1,3.0 15.9,6.0 16.7,9.0 17.5,12.0 18.3,15.0 19.1,18.0 19.9,21.0 20.7,24.0 21.5,27.0 22.3,30.0 23.2,33.0 24.2,36.0 25.1,39.0 26.1,42.0 27.0,45.0 27.9,48.0 28.9,51.0 29.8,54.0 30.8,57.0 31.8,60.0 32.9,63.0 33.9,66.0 34.9,69.0 35.9,72.0 36.8,75.0 37.7,78.0 38.6,81.0 39.4,84.0 40.3,87.0 41.2,90.0 42.1,93.0 43.0,96.0 44.1,99.0 45.2,102.0 46.2,105.0 47.0,108.0 47.7,111.0 47.9,114.0 48.1,117.0 48.4,120.0 48.7,123.0 49.1,126.0 49.3,129.0 49.5,132.0 49.6,135.0 49.7,138.0 49.9,141.0 50.0,144.0 50.1,147.0 50.3,150.0 50.4,153.0 50.5,156.0 50.7,159.0 50.8,162.0 50.9,165.0 51.1,168.0 51.2,171.0 51.3,174.0 51.4,177.0 51.6,180.0 51.7,183.0 51.8,186.0 52.0,189.0 52.1,192.0 52.2,195.0 52.3,198.0 52.5,201.0 52.6,204.0 52.8,207.0 53.0,210.0 53.2,213.0 53.4,216.0 53.6,219.0 53.8,222.0 54.0,225.0 54.2,228.0 54.4,231.0 54.7,234.0 54.9,237.0 55.2,240.0 55.5,243.0 55.9,246.0 56.4,249.0 57.0,252.0 57.5,255.0 58.0,258.0 58.5,261.0 59.0,264.0 59.6,267.0 60.2,270.0 60.8,273.0 61.3,276.0 61.9,279.0 62.5,282.0 63.2,285.0 64.2,288.0 65.2,291.0 66.2,294.0 67.3,297.0 68.4,300.0 69.2,303.0 69.3,306.0 69.6,309.0 69.6,312.0 69.5,315.0 69.8,318.0 69.8,318.5 61.1,318.5 60.9,318.0 59.5,315.0 58.1,312.0 56.9,309.0 55.8,306.0 54.8,303.0 53.9,300.0 53.0,297.0 52.1,294.0 51.4,291.0 50.6,288.0 49.8,285.0 49.2,282.0 48.8,279.0 48.3,276.0 47.8,273.0 47.4,270.0 46.9,267.0 46.4,264.0 46.0,261.0 45.7,258.0 45.3,255.0 44.9,252.0 44.5,249.0 44.1,246.0 43.8,243.0 43.6,240.0 43.4,237.0 43.3,234.0 43.1,231.0 43.0,228.0 42.8,225.0 42.7,222.0 42.5,219.0 42.3,216.0 42.2,213.0 42.0,210.0 41.9,207.0 41.7,204.0 41.6,201.0 41.5,198.0 41.4,195.0 41.3,192.0 41.3,189.0 41.2,186.0 41.1,183.0 41.0,180.0 40.9,177.0 40.8,174.0 40.7,171.0 40.6,168.0 40.5,165.0 40.4,162.0 40.3,159.0 40.2,156.0 40.2,153.0 40.1,150.0 40.0,147.0 39.9,144.0 39.8,141.0 39.7,138.0 39.6,135.0 39.5,132.0 39.4,129.0 39.2,126.0 38.9,123.0 38.5,120.0 38.3,117.0 38.1,114.0 37.9,111.0 37.3,108.0 36.5,105.0 35.6,102.0 34.5,99.0 33.4,96.0 32.5,93.0 31.7,90.0 30.8,87.0 30.0,84.0 29.2,81.0 28.3,78.0 27.5,75.0 26.5,72.0 25.6,69.0 24.6,66.0 23.6,63.0 22.6,60.0 21.7,57.0 20.7,54.0 19.8,51.0 18.9,48.0 18.0,45.0 17.0,42.0 16.1,39.0 15.2,36.0 14.3,33.0 13.4,30.0 12.6,27.0 11.8,24.0 11.1,21.0 10.3,18.0 9.6,15.0 8.8,12.0 8.0,9.0 7.3,6.0 6.5,3.0 5.7,0.0" fill="url(#gC2)"/>
<polygon points="12.5,0.0 13.3,3.0 14.1,6.0 14.8,9.0 15.6,12.0 16.4,15.0 17.1,18.0 17.9,21.0 18.7,24.0 19.4,27.0 20.2,30.0 21.1,33.0 22.0,36.0 23.0,39.0 23.9,42.0 24.8,45.0 25.7,48.0 26.6,51.0 27.5,54.0 28.5,57.0 29.5,60.0 30.5,63.0 31.4,66.0 32.4,69.0 33.4,72.0 34.3,75.0 35.2,78.0 36.0,81.0 36.9,84.0 37.7,87.0 38.5,90.0 39.4,93.0 40.3,96.0 41.4,99.0 42.5,102.0 43.4,105.0 44.1,108.0 44.8,111.0 45.0,114.0 45.2,117.0 45.4,120.0 45.7,123.0 46.1,126.0 46.2,129.0 46.3,132.0 46.4,135.0 46.5,138.0 46.6,141.0 46.7,144.0 46.8,147.0 46.9,150.0 47.0,153.0 47.1,156.0 47.2,159.0 47.3,162.0 47.4,165.0 47.5,168.0 47.6,171.0 47.7,174.0 47.8,177.0 47.9,180.0 48.0,183.0 48.1,186.0 48.2,189.0 48.3,192.0 48.4,195.0 48.5,198.0 48.5,201.0 48.6,204.0 48.8,207.0 49.0,210.0 49.1,213.0 49.3,216.0 49.4,219.0 49.6,222.0 49.8,225.0 49.9,228.0 50.1,231.0 50.2,234.0 50.4,237.0 50.6,240.0 50.7,243.0 51.1,246.0 51.4,249.0 51.8,252.0 52.2,255.0 52.6,258.0 53.0,261.0 53.4,264.0 53.9,267.0 54.3,270.0 54.8,273.0 55.3,276.0 55.7,279.0 56.2,282.0 56.8,285.0 57.6,288.0 58.4,291.0 59.1,294.0 60.0,297.0 60.9,300.0 61.8,303.0 62.8,306.0 63.9,309.0 65.1,312.0 66.5,315.0 67.9,318.0 68.1,318.5 61.1,318.5 60.9,318.0 59.5,315.0 58.1,312.0 56.9,309.0 55.8,306.0 54.8,303.0 53.9,300.0 53.0,297.0 52.1,294.0 51.4,291.0 50.6,288.0 49.8,285.0 49.2,282.0 48.8,279.0 48.3,276.0 47.8,273.0 47.4,270.0 46.9,267.0 46.4,264.0 46.0,261.0 45.7,258.0 45.3,255.0 44.9,252.0 44.5,249.0 44.1,246.0 43.8,243.0 43.6,240.0 43.4,237.0 43.3,234.0 43.1,231.0 43.0,228.0 42.8,225.0 42.7,222.0 42.5,219.0 42.3,216.0 42.2,213.0 42.0,210.0 41.9,207.0 41.7,204.0 41.6,201.0 41.5,198.0 41.4,195.0 41.3,192.0 41.3,189.0 41.2,186.0 41.1,183.0 41.0,180.0 40.9,177.0 40.8,174.0 40.7,171.0 40.6,168.0 40.5,165.0 40.4,162.0 40.3,159.0 40.2,156.0 40.2,153.0 40.1,150.0 40.0,147.0 39.9,144.0 39.8,141.0 39.7,138.0 39.6,135.0 39.5,132.0 39.4,129.0 39.2,126.0 38.9,123.0 38.5,120.0 38.3,117.0 38.1,114.0 37.9,111.0 37.3,108.0 36.5,105.0 35.6,102.0 34.5,99.0 33.4,96.0 32.5,93.0 31.7,90.0 30.8,87.0 30.0,84.0 29.2,81.0 28.3,78.0 27.5,75.0 26.5,72.0 25.6,69.0 24.6,66.0 23.6,63.0 22.6,60.0 21.7,57.0 20.7,54.0 19.8,51.0 18.9,48.0 18.0,45.0 17.0,42.0 16.1,39.0 15.2,36.0 14.3,33.0 13.4,30.0 12.6,27.0 11.8,24.0 11.1,21.0 10.3,18.0 9.6,15.0 8.8,12.0 8.0,9.0 7.3,6.0 6.5,3.0 5.7,0.0" fill="#f7f7f7"/>
</g></g>
<path d="M65.5 166.8 L73.5 168.6" stroke="#2a80e4" stroke-width="1.2" stroke-linecap="round" fill="none" opacity="0.85"/>
</g>
<line x1="286.3" y1="70.8" x2="364.0" y2="70.8" stroke="#886" stroke-width="0.7" opacity="0.09"/>
<line x1="286.3" y1="170.6" x2="364.0" y2="170.6" stroke="#886" stroke-width="0.7" opacity="0.09"/>
<line x1="286.3" y1="270.9" x2="364.0" y2="270.9" stroke="#886" stroke-width="0.7" opacity="0.09"/>
<line x1="332.0" y1="29.0" x2="332.0" y2="352.0" stroke="#886" stroke-width="0.7" opacity="0.09"/>
<path fill-rule="evenodd" fill="#fff" d="M283.3 26.0h83.7v329.0h-83.7z M286.5 29.2h77.3v322.6h-77.3z"/>
<line x1="283.65" y1="26.00" x2="283.65" y2="355.00" stroke="#777" stroke-width="0.7"/>
<line x1="286.30" y1="29.20" x2="286.30" y2="351.80" stroke="#444" stroke-width="0.7"/>
<line x1="366.60" y1="26.00" x2="366.60" y2="355.00" stroke="#b5b5b5" stroke-width="0.9"/>
<line x1="364.00" y1="29.20" x2="364.00" y2="351.80" stroke="#ddd" stroke-width="0.5"/>
<line x1="283.30" y1="26.35" x2="367.00" y2="26.35" stroke="#555" stroke-width="0.7"/>
<line x1="286.50" y1="28.95" x2="363.80" y2="28.95" stroke="#888" stroke-width="0.6"/>
<line x1="283.30" y1="354.65" x2="367.00" y2="354.65" stroke="#444" stroke-width="0.7"/>
<line x1="286.50" y1="352.05" x2="363.80" y2="352.05" stroke="#666" stroke-width="0.6"/>
<rect x="283.3" y="26.0" width="24.2" height="3.2" fill="#000"/>
<rect x="337.5" y="26.0" width="29.5" height="3.2" fill="#000"/>
<rect x="283.3" y="351.8" width="28.6" height="3.2" fill="#000"/>
<rect x="341.3" y="351.8" width="25.7" height="3.2" fill="#000"/>
<rect x="283.3" y="26.0" width="3.2" height="6.7" fill="#000"/>
<rect x="283.3" y="64.8" width="3.2" height="29.8" fill="#000"/>
<rect x="283.3" y="124.2" width="3.2" height="29.7" fill="#000"/>
<rect x="283.3" y="183.7" width="3.2" height="29.7" fill="#000"/>
<rect x="283.3" y="243.2" width="3.2" height="29.7" fill="#000"/>
<rect x="283.3" y="302.7" width="3.2" height="29.7" fill="#000"/>
<rect x="363.8" y="26.0" width="3.2" height="3.2" fill="#000"/>
<rect x="363.8" y="59.2" width="3.2" height="29.1" fill="#000"/>
<rect x="363.8" y="118.2" width="3.2" height="30.0" fill="#000"/>
<rect x="363.8" y="178.2" width="3.2" height="29.1" fill="#000"/>
<rect x="363.8" y="237.2" width="3.2" height="30.0" fill="#000"/>
<rect x="363.8" y="297.2" width="3.2" height="29.6" fill="#000"/>
<line x1="282.1" y1="45.7" x2="284.5" y2="45.7" stroke="#222" stroke-width="0.8"/>
<line x1="282.1" y1="166.4" x2="284.5" y2="166.4" stroke="#222" stroke-width="0.8"/>
<line x1="282.1" y1="287.0" x2="284.5" y2="287.0" stroke="#222" stroke-width="0.8"/>
<line x1="294.5" y1="353.4" x2="294.5" y2="356.2" stroke="#222" stroke-width="0.8"/>
<line x1="323.3" y1="353.4" x2="323.3" y2="356.2" stroke="#222" stroke-width="0.8"/>
<line x1="351.7" y1="353.4" x2="351.7" y2="356.2" stroke="#222" stroke-width="0.8"/>
<text transform="translate(280.6,46.3) rotate(-90)" font-size="10" textLength="43" lengthAdjust="spacingAndGlyphs" x="-21.5">19°52'0&quot;N</text>
<text transform="translate(280.6,166.8) rotate(-90)" font-size="10" textLength="43" lengthAdjust="spacingAndGlyphs" x="-21.5">19°48'0&quot;N</text>
<text transform="translate(280.6,287.4) rotate(-90)" font-size="10" textLength="43" lengthAdjust="spacingAndGlyphs" x="-21.5">19°44'0&quot;N</text>
<text x="271.2" y="365.3" font-size="9.9" textLength="47.2" lengthAdjust="spacingAndGlyphs">110°59'0&quot;E</text>
<text x="331.1" y="365.3" font-size="9.9" textLength="41.6" lengthAdjust="spacingAndGlyphs">111°1'0&quot;E</text>
<text transform="translate(313.1,147.8) rotate(90)" font-size="10.7" textLength="89.2" lengthAdjust="spacingAndGlyphs">19.7810, 111.0021</text>
<text transform="translate(291.9,233.4) rotate(90)" font-size="13.3" textLength="62.6" lengthAdjust="spacingAndGlyphs" stroke-width="0.05">Land Area</text>
<text x="288.2" y="350.1" font-size="12.9" textLength="18.8" lengthAdjust="spacingAndGlyphs">(C)</text>
<rect x="374.4" y="26.0" width="8.1" height="329.5" fill="url(#parula)" stroke="#7a7a40" stroke-opacity="0.45" stroke-width="0.5"/>
<line x1="380.3" y1="39.3" x2="382.5" y2="39.3" stroke="#333" stroke-width="0.6"/>
<text transform="translate(389.8,42.4) scale(0.92,1)" font-size="9.3" text-anchor="middle">18</text>
<line x1="380.3" y1="74.3" x2="382.5" y2="74.3" stroke="#333" stroke-width="0.6"/>
<text transform="translate(389.8,77.4) scale(0.92,1)" font-size="9.3" text-anchor="middle">16</text>
<line x1="380.3" y1="109.3" x2="382.5" y2="109.3" stroke="#333" stroke-width="0.6"/>
<text transform="translate(389.8,112.4) scale(0.92,1)" font-size="9.3" text-anchor="middle">14</text>
<line x1="380.3" y1="144.4" x2="382.5" y2="144.4" stroke="#333" stroke-width="0.6"/>
<text transform="translate(389.8,147.5) scale(0.92,1)" font-size="9.3" text-anchor="middle">12</text>
<line x1="380.3" y1="179.4" x2="382.5" y2="179.4" stroke="#333" stroke-width="0.6"/>
<text transform="translate(389.8,182.5) scale(0.92,1)" font-size="9.3" text-anchor="middle">10</text>
<line x1="380.3" y1="214.4" x2="382.5" y2="214.4" stroke="#333" stroke-width="0.6"/>
<text transform="translate(389.8,217.5) scale(0.92,1)" font-size="9.3" text-anchor="middle">8</text>
<line x1="380.3" y1="249.4" x2="382.5" y2="249.4" stroke="#333" stroke-width="0.6"/>
<text transform="translate(389.8,252.5) scale(0.92,1)" font-size="9.3" text-anchor="middle">6</text>
<line x1="380.3" y1="284.4" x2="382.5" y2="284.4" stroke="#333" stroke-width="0.6"/>
<text transform="translate(389.8,287.5) scale(0.92,1)" font-size="9.3" text-anchor="middle">4</text>
<line x1="380.3" y1="319.5" x2="382.5" y2="319.5" stroke="#333" stroke-width="0.6"/>
<text transform="translate(389.8,322.6) scale(0.92,1)" font-size="9.3" text-anchor="middle">2</text>
<text transform="translate(389.8,357.6) scale(0.92,1)" font-size="9.3" text-anchor="middle">0</text>
</g>
<!-- panel D -->
<g id="panelD">
<line x1="425.6" y1="70.8" x2="503.0" y2="70.8" stroke="#e2e2e2" stroke-width="0.7" opacity="1"/>
<line x1="425.6" y1="170.6" x2="503.0" y2="170.6" stroke="#e2e2e2" stroke-width="0.7" opacity="1"/>
<line x1="425.6" y1="270.9" x2="503.0" y2="270.9" stroke="#e2e2e2" stroke-width="0.7" opacity="1"/>
<line x1="471.8" y1="29.0" x2="471.8" y2="352.0" stroke="#e2e2e2" stroke-width="0.7" opacity="1"/>
<g transform="translate(422.6,26.0)" clip-path="url(#dataclip)"><g transform="rotate(25)" filter="url(#fD)"><g transform="rotate(-25)">
<rect x="-200" y="-200" width="600" height="800" fill="url(#gD0)"/>
<polygon points="70,120 90,120 90,330 62,330 66,250" fill="#000" opacity="0.035"/>
<polygon points="15.9,0.0 16.7,3.0 17.5,6.0 18.2,9.0 19.0,12.0 19.8,15.0 20.6,18.0 21.3,21.0 22.1,24.0 22.9,27.0 23.7,30.0 24.6,33.0 25.5,36.0 26.4,39.0 27.3,42.0 28.2,45.0 29.2,48.0 30.1,51.0 31.0,54.0 32.0,57.0 33.0,60.0 33.9,63.0 34.9,66.0 35.9,69.0 36.9,72.0 37.8,75.0 38.7,78.0 39.5,81.0 40.4,84.0 41.2,87.0 42.1,90.0 42.9,93.0 43.8,96.0 44.9,99.0 46.0,102.0 46.9,105.0 47.7,108.0 48.3,111.0 48.5,114.0 48.8,117.0 49.0,120.0 49.3,123.0 49.6,126.0 49.8,129.0 49.9,132.0 50.0,135.0 50.1,138.0 50.2,141.0 50.3,144.0 50.4,147.0 50.6,150.0 50.7,153.0 50.8,156.0 50.9,159.0 51.0,162.0 51.1,165.0 51.2,168.0 51.3,171.0 51.4,174.0 51.5,177.0 51.5,180.0 51.6,183.0 51.7,186.0 51.8,189.0 51.9,192.0 52.0,195.0 52.1,198.0 52.2,201.0 52.4,204.0 52.6,207.0 52.8,210.0 53.0,213.0 53.2,216.0 53.4,219.0 53.6,222.0 53.8,225.0 54.0,228.0 54.2,231.0 54.4,234.0 54.6,237.0 54.8,240.0 55.0,243.0 55.4,246.0 55.8,249.0 56.3,252.0 56.7,255.0 57.1,258.0 57.6,261.0 58.0,264.0 58.5,267.0 59.0,270.0 59.5,273.0 60.0,276.0 60.6,279.0 61.1,282.0 61.7,285.0 62.5,288.0 63.3,291.0 64.2,294.0 65.1,297.0 66.0,300.0 67.0,303.0 68.0,306.0 69.1,309.0 70.3,312.0 71.8,315.0 73.2,318.0 73.5,318.5 61.1,318.5 60.9,318.0 59.5,315.0 58.1,312.0 56.9,309.0 55.8,306.0 54.8,303.0 53.9,300.0 53.0,297.0 52.1,294.0 51.4,291.0 50.6,288.0 49.8,285.0 49.2,282.0 48.8,279.0 48.3,276.0 47.8,273.0 47.4,270.0 46.9,267.0 46.4,264.0 46.0,261.0 45.7,258.0 45.3,255.0 44.9,252.0 44.5,249.0 44.1,246.0 43.8,243.0 43.6,240.0 43.4,237.0 43.3,234.0 43.1,231.0 43.0,228.0 42.8,225.0 42.7,222.0 42.5,219.0 42.3,216.0 42.2,213.0 42.0,210.0 41.9,207.0 41.7,204.0 41.6,201.0 41.5,198.0 41.4,195.0 41.3,192.0 41.3,189.0 41.2,186.0 41.1,183.0 41.0,180.0 40.9,177.0 40.8,174.0 40.7,171.0 40.6,168.0 40.5,165.0 40.4,162.0 40.3,159.0 40.2,156.0 40.2,153.0 40.1,150.0 40.0,147.0 39.9,144.0 39.8,141.0 39.7,138.0 39.6,135.0 39.5,132.0 39.4,129.0 39.2,126.0 38.9,123.0 38.5,120.0 38.3,117.0 38.1,114.0 37.9,111.0 37.3,108.0 36.5,105.0 35.6,102.0 34.5,99.0 33.4,96.0 32.5,93.0 31.7,90.0 30.8,87.0 30.0,84.0 29.2,81.0 28.3,78.0 27.5,75.0 26.5,72.0 25.6,69.0 24.6,66.0 23.6,63.0 22.6,60.0 21.7,57.0 20.7,54.0 19.8,51.0 18.9,48.0 18.0,45.0 17.0,42.0 16.1,39.0 15.2,36.0 14.3,33.0 13.4,30.0 12.6,27.0 11.8,24.0 11.1,21.0 10.3,18.0 9.6,15.0 8.8,12.0 8.0,9.0 7.3,6.0 6.5,3.0 5.7,0.0" fill="url(#gD1)"/>
<polygon points="14.1,0.0 14.9,3.0 15.7,6.0 16.4,9.0 17.2,12.0 18.0,15.0 18.7,18.0 19.5,21.0 20.3,24.0 21.0,27.0 21.8,30.0 22.7,33.0 23.7,36.0 24.6,39.0 25.5,42.0 26.4,45.0 27.3,48.0 28.2,51.0 29.2,54.0 30.1,57.0 31.1,60.0 32.1,63.0 33.1,66.0 34.0,69.0 35.0,72.0 35.9,75.0 36.8,78.0 37.6,81.0 38.5,84.0 39.3,87.0 40.2,90.0 41.0,93.0 41.9,96.0 43.0,99.0 44.1,102.0 45.0,105.0 45.8,108.0 46.4,111.0 46.6,114.0 46.8,117.0 47.1,120.0 47.4,123.0 47.7,126.0 47.9,129.0 48.0,132.0 48.1,135.0 48.2,138.0 48.3,141.0 48.4,144.0 48.5,147.0 48.6,150.0 48.7,153.0 48.8,156.0 48.9,159.0 49.0,162.0 49.1,165.0 49.2,168.0 49.3,171.0 49.4,174.0 49.5,177.0 49.6,180.0 49.7,183.0 49.8,186.0 49.8,189.0 49.9,192.0 50.0,195.0 50.1,198.0 50.2,201.0 50.4,204.0 50.5,207.0 50.7,210.0 50.9,213.0 51.1,216.0 51.3,219.0 51.5,222.0 51.7,225.0 51.9,228.0 52.0,231.0 52.2,234.0 52.4,237.0 52.6,240.0 52.8,243.0 53.2,246.0 53.6,249.0 54.0,252.0 54.4,255.0 54.8,258.0 55.3,261.0 55.7,264.0 56.2,267.0 56.7,270.0 57.2,273.0 57.7,276.0 58.2,279.0 58.7,282.0 59.3,285.0 60.1,288.0 60.9,291.0 61.7,294.0 62.6,297.0 63.5,300.0 64.5,303.0 65.4,306.0 66.6,309.0 67.8,312.0 69.2,315.0 70.6,318.0 70.9,318.5 61.1,318.5 60.9,318.0 59.5,315.0 58.1,312.0 56.9,309.0 55.8,306.0 54.8,303.0 53.9,300.0 53.0,297.0 52.1,294.0 51.4,291.0 50.6,288.0 49.8,285.0 49.2,282.0 48.8,279.0 48.3,276.0 47.8,273.0 47.4,270.0 46.9,267.0 46.4,264.0 46.0,261.0 45.7,258.0 45.3,255.0 44.9,252.0 44.5,249.0 44.1,246.0 43.8,243.0 43.6,240.0 43.4,237.0 43.3,234.0 43.1,231.0 43.0,228.0 42.8,225.0 42.7,222.0 42.5,219.0 42.3,216.0 42.2,213.0 42.0,210.0 41.9,207.0 41.7,204.0 41.6,201.0 41.5,198.0 41.4,195.0 41.3,192.0 41.3,189.0 41.2,186.0 41.1,183.0 41.0,180.0 40.9,177.0 40.8,174.0 40.7,171.0 40.6,168.0 40.5,165.0 40.4,162.0 40.3,159.0 40.2,156.0 40.2,153.0 40.1,150.0 40.0,147.0 39.9,144.0 39.8,141.0 39.7,138.0 39.6,135.0 39.5,132.0 39.4,129.0 39.2,126.0 38.9,123.0 38.5,120.0 38.3,117.0 38.1,114.0 37.9,111.0 37.3,108.0 36.5,105.0 35.6,102.0 34.5,99.0 33.4,96.0 32.5,93.0 31.7,90.0 30.8,87.0 30.0,84.0 29.2,81.0 28.3,78.0 27.5,75.0 26.5,72.0 25.6,69.0 24.6,66.0 23.6,63.0 22.6,60.0 21.7,57.0 20.7,54.0 19.8,51.0 18.9,48.0 18.0,45.0 17.0,42.0 16.1,39.0 15.2,36.0 14.3,33.0 13.4,30.0 12.6,27.0 11.8,24.0 11.1,21.0 10.3,18.0 9.6,15.0 8.8,12.0 8.0,9.0 7.3,6.0 6.5,3.0 5.7,0.0" fill="#6b6b6b"/>
<polygon points="13.3,0.0 14.1,3.0 14.9,6.0 15.6,9.0 16.4,12.0 17.2,15.0 17.9,18.0 18.7,21.0 19.5,24.0 20.2,27.0 21.0,30.0 21.9,33.0 22.8,36.0 23.7,39.0 24.7,42.0 25.6,45.0 26.5,48.0 27.4,51.0 28.3,54.0 29.3,57.0 30.3,60.0 31.3,63.0 32.2,66.0 33.2,69.0 34.2,72.0 35.1,75.0 36.0,78.0 36.8,81.0 37.6,84.0 38.5,87.0 39.3,90.0 40.2,93.0 41.1,96.0 42.2,99.0 43.3,102.0 44.2,105.0 44.9,108.0 45.6,111.0 45.8,114.0 46.0,117.0 46.2,120.0 46.5,123.0 46.9,126.0 47.0,129.0 47.1,132.0 47.2,135.0 47.3,138.0 47.4,141.0 47.5,144.0 47.6,147.0 47.7,150.0 47.8,153.0 47.9,156.0 48.0,159.0 48.1,162.0 48.2,165.0 48.3,168.0 48.4,171.0 48.5,174.0 48.6,177.0 48.7,180.0 48.8,183.0 48.9,186.0 49.0,189.0 49.0,192.0 49.1,195.0 49.2,198.0 49.3,201.0 49.4,204.0 49.6,207.0 49.8,210.0 50.0,213.0 50.1,216.0 50.3,219.0 50.5,222.0 50.7,225.0 50.8,228.0 51.0,231.0 51.2,234.0 51.4,237.0 51.5,240.0 51.7,243.0 52.1,246.0 52.5,249.0 52.9,252.0 53.3,255.0 53.7,258.0 54.1,261.0 54.5,264.0 55.0,267.0 55.5,270.0 56.0,273.0 56.4,276.0 56.9,279.0 57.4,282.0 58.0,285.0 58.8,288.0 59.6,291.0 60.4,294.0 61.3,297.0 62.2,300.0 63.1,303.0 64.1,306.0 65.2,309.0 66.4,312.0 67.8,315.0 69.3,318.0 69.5,318.5 61.1,318.5 60.9,318.0 59.5,315.0 58.1,312.0 56.9,309.0 55.8,306.0 54.8,303.0 53.9,300.0 53.0,297.0 52.1,294.0 51.4,291.0 50.6,288.0 49.8,285.0 49.2,282.0 48.8,279.0 48.3,276.0 47.8,273.0 47.4,270.0 46.9,267.0 46.4,264.0 46.0,261.0 45.7,258.0 45.3,255.0 44.9,252.0 44.5,249.0 44.1,246.0 43.8,243.0 43.6,240.0 43.4,237.0 43.3,234.0 43.1,231.0 43.0,228.0 42.8,225.0 42.7,222.0 42.5,219.0 42.3,216.0 42.2,213.0 42.0,210.0 41.9,207.0 41.7,204.0 41.6,201.0 41.5,198.0 41.4,195.0 41.3,192.0 41.3,189.0 41.2,186.0 41.1,183.0 41.0,180.0 40.9,177.0 40.8,174.0 40.7,171.0 40.6,168.0 40.5,165.0 40.4,162.0 40.3,159.0 40.2,156.0 40.2,153.0 40.1,150.0 40.0,147.0 39.9,144.0 39.8,141.0 39.7,138.0 39.6,135.0 39.5,132.0 39.4,129.0 39.2,126.0 38.9,123.0 38.5,120.0 38.3,117.0 38.1,114.0 37.9,111.0 37.3,108.0 36.5,105.0 35.6,102.0 34.5,99.0 33.4,96.0 32.5,93.0 31.7,90.0 30.8,87.0 30.0,84.0 29.2,81.0 28.3,78.0 27.5,75.0 26.5,72.0 25.6,69.0 24.6,66.0 23.6,63.0 22.6,60.0 21.7,57.0 20.7,54.0 19.8,51.0 18.9,48.0 18.0,45.0 17.0,42.0 16.1,39.0 15.2,36.0 14.3,33.0 13.4,30.0 12.6,27.0 11.8,24.0 11.1,21.0 10.3,18.0 9.6,15.0 8.8,12.0 8.0,9.0 7.3,6.0 6.5,3.0 5.7,0.0" fill="#9e9e9e"/>
<polygon points="12.6,0.0 13.4,3.0 14.2,6.0 14.9,9.0 15.7,12.0 16.5,15.0 17.2,18.0 18.0,21.0 18.8,24.0 19.5,27.0 20.3,30.0 21.2,33.0 22.1,36.0 23.0,39.0 24.0,42.0 24.9,45.0 25.8,48.0 26.7,51.0 27.6,54.0 28.6,57.0 29.6,60.0 30.6,63.0 31.5,66.0 32.5,69.0 33.5,72.0 34.4,75.0 35.3,78.0 36.1,81.0 36.9,84.0 37.8,87.0 38.6,90.0 39.5,93.0 40.4,96.0 41.5,99.0 42.6,102.0 43.5,105.0 44.2,108.0 44.9,111.0 45.1,114.0 45.3,117.0 45.5,120.0 45.8,123.0 46.2,126.0 46.3,129.0 46.4,132.0 46.5,135.0 46.6,138.0 46.7,141.0 46.8,144.0 46.9,147.0 47.0,150.0 47.1,153.0 47.2,156.0 47.3,159.0 47.4,162.0 47.5,165.0 47.6,168.0 47.7,171.0 47.8,174.0 47.9,177.0 48.0,180.0 48.1,183.0 48.2,186.0 48.3,189.0 48.3,192.0 48.4,195.0 48.5,198.0 48.6,201.0 48.7,204.0 48.9,207.0 49.1,210.0 49.2,213.0 49.4,216.0 49.6,219.0 49.7,222.0 49.9,225.0 50.0,228.0 50.2,231.0 50.4,234.0 50.5,237.0 50.7,240.0 50.9,243.0 51.2,246.0 51.6,249.0 52.0,252.0 52.4,255.0 52.8,258.0 53.2,261.0 53.6,264.0 54.1,267.0 54.6,270.0 55.0,273.0 55.5,276.0 56.0,279.0 56.4,282.0 57.0,285.0 57.8,288.0 58.6,291.0 59.4,294.0 60.3,297.0 61.2,300.0 62.1,303.0 63.0,306.0 64.1,309.0 65.3,312.0 66.8,315.0 68.2,318.0 68.4,318.5 61.1,318.5 60.9,318.0 59.5,315.0 58.1,312.0 56.9,309.0 55.8,306.0 54.8,303.0 53.9,300.0 53.0,297.0 52.1,294.0 51.4,291.0 50.6,288.0 49.8,285.0 49.2,282.0 48.8,279.0 48.3,276.0 47.8,273.0 47.4,270.0 46.9,267.0 46.4,264.0 46.0,261.0 45.7,258.0 45.3,255.0 44.9,252.0 44.5,249.0 44.1,246.0 43.8,243.0 43.6,240.0 43.4,237.0 43.3,234.0 43.1,231.0 43.0,228.0 42.8,225.0 42.7,222.0 42.5,219.0 42.3,216.0 42.2,213.0 42.0,210.0 41.9,207.0 41.7,204.0 41.6,201.0 41.5,198.0 41.4,195.0 41.3,192.0 41.3,189.0 41.2,186.0 41.1,183.0 41.0,180.0 40.9,177.0 40.8,174.0 40.7,171.0 40.6,168.0 40.5,165.0 40.4,162.0 40.3,159.0 40.2,156.0 40.2,153.0 40.1,150.0 40.0,147.0 39.9,144.0 39.8,141.0 39.7,138.0 39.6,135.0 39.5,132.0 39.4,129.0 39.2,126.0 38.9,123.0 38.5,120.0 38.3,117.0 38.1,114.0 37.9,111.0 37.3,108.0 36.5,105.0 35.6,102.0 34.5,99.0 33.4,96.0 32.5,93.0 31.7,90.0 30.8,87.0 30.0,84.0 29.2,81.0 28.3,78.0 27.5,75.0 26.5,72.0 25.6,69.0 24.6,66.0 23.6,63.0 22.6,60.0 21.7,57.0 20.7,54.0 19.8,51.0 18.9,48.0 18.0,45.0 17.0,42.0 16.1,39.0 15.2,36.0 14.3,33.0 13.4,30.0 12.6,27.0 11.8,24.0 11.1,21.0 10.3,18.0 9.6,15.0 8.8,12.0 8.0,9.0 7.3,6.0 6.5,3.0 5.7,0.0" fill="#ffffff"/>
</g></g>
<path d="M65.0 166.8 L70.0 168.6" stroke="#6a38c4" stroke-width="0.9" stroke-linecap="round" fill="none" opacity="0.85"/>
</g>
<line x1="425.6" y1="70.8" x2="503.0" y2="70.8" stroke="#444" stroke-width="0.7" opacity="0.09"/>
<line x1="425.6" y1="170.6" x2="503.0" y2="170.6" stroke="#444" stroke-width="0.7" opacity="0.09"/>
<line x1="425.6" y1="270.9" x2="503.0" y2="270.9" stroke="#444" stroke-width="0.7" opacity="0.09"/>
<line x1="471.8" y1="29.0" x2="471.8" y2="352.0" stroke="#444" stroke-width="0.7" opacity="0.09"/>
<path fill-rule="evenodd" fill="#fff" d="M422.6 26.0h83.4v329.0h-83.4z M425.8 29.2h77.0v322.6h-77.0z"/>
<line x1="422.95" y1="26.00" x2="422.95" y2="355.00" stroke="#777" stroke-width="0.7"/>
<line x1="425.60" y1="29.20" x2="425.60" y2="351.80" stroke="#444" stroke-width="0.7"/>
<line x1="505.60" y1="26.00" x2="505.60" y2="355.00" stroke="#b5b5b5" stroke-width="0.9"/>
<line x1="503.00" y1="29.20" x2="503.00" y2="351.80" stroke="#ddd" stroke-width="0.5"/>
<line x1="422.60" y1="26.35" x2="506.00" y2="26.35" stroke="#555" stroke-width="0.7"/>
<line x1="425.80" y1="28.95" x2="502.80" y2="28.95" stroke="#888" stroke-width="0.6"/>
<line x1="422.60" y1="354.65" x2="506.00" y2="354.65" stroke="#444" stroke-width="0.7"/>
<line x1="425.80" y1="352.05" x2="502.80" y2="352.05" stroke="#666" stroke-width="0.6"/>
<rect x="422.6" y="26.0" width="24.2" height="3.2" fill="#000"/>
<rect x="476.8" y="26.0" width="29.2" height="3.2" fill="#000"/>
<rect x="422.6" y="351.8" width="28.6" height="3.2" fill="#000"/>
<rect x="480.6" y="351.8" width="25.4" height="3.2" fill="#000"/>
<rect x="422.6" y="26.0" width="3.2" height="6.7" fill="#000"/>
<rect x="422.6" y="64.8" width="3.2" height="29.8" fill="#000"/>
<rect x="422.6" y="124.2" width="3.2" height="29.7" fill="#000"/>
<rect x="422.6" y="183.7" width="3.2" height="29.7" fill="#000"/>
<rect x="422.6" y="243.2" width="3.2" height="29.7" fill="#000"/>
<rect x="422.6" y="302.7" width="3.2" height="29.7" fill="#000"/>
<rect x="502.8" y="26.0" width="3.2" height="3.2" fill="#000"/>
<rect x="502.8" y="59.2" width="3.2" height="29.1" fill="#000"/>
<rect x="502.8" y="118.2" width="3.2" height="30.0" fill="#000"/>
<rect x="502.8" y="178.2" width="3.2" height="29.1" fill="#000"/>
<rect x="502.8" y="237.2" width="3.2" height="30.0" fill="#000"/>
<rect x="502.8" y="297.2" width="3.2" height="29.6" fill="#000"/>
<line x1="421.4" y1="45.7" x2="423.8" y2="45.7" stroke="#222" stroke-width="0.8"/>
<line x1="421.4" y1="166.4" x2="423.8" y2="166.4" stroke="#222" stroke-width="0.8"/>
<line x1="421.4" y1="287.0" x2="423.8" y2="287.0" stroke="#222" stroke-width="0.8"/>
<line x1="433.8" y1="353.4" x2="433.8" y2="356.2" stroke="#222" stroke-width="0.8"/>
<line x1="462.6" y1="353.4" x2="462.6" y2="356.2" stroke="#222" stroke-width="0.8"/>
<line x1="491.0" y1="353.4" x2="491.0" y2="356.2" stroke="#222" stroke-width="0.8"/>
<text transform="translate(419.9,46.3) rotate(-90)" font-size="10" textLength="43" lengthAdjust="spacingAndGlyphs" x="-21.5">19°52'0&quot;N</text>
<text transform="translate(419.9,166.8) rotate(-90)" font-size="10" textLength="43" lengthAdjust="spacingAndGlyphs" x="-21.5">19°48'0&quot;N</text>
<text transform="translate(419.9,287.4) rotate(-90)" font-size="10" textLength="43" lengthAdjust="spacingAndGlyphs" x="-21.5">19°44'0&quot;N</text>
<text x="410.5" y="365.4" font-size="9.9" textLength="47.2" lengthAdjust="spacingAndGlyphs">110°59'0&quot;E</text>
<text x="470.4" y="365.4" font-size="9.9" textLength="41.6" lengthAdjust="spacingAndGlyphs">111°1'0&quot;E</text>
<text transform="translate(453.6,147.8) rotate(90)" font-size="10.7" textLength="89.2" lengthAdjust="spacingAndGlyphs">19.7810, 111.0021</text>
<text transform="translate(432.9,233.4) rotate(90)" font-size="13.3" textLength="62.6" lengthAdjust="spacingAndGlyphs" stroke-width="0.05">Land Area</text>
<text x="427.5" y="349.9" font-size="12.9" textLength="19.4" lengthAdjust="spacingAndGlyphs">(D)</text>
<rect x="513.3" y="25.6" width="8.0" height="329.6" fill="url(#parula)" stroke="#7a7a40" stroke-opacity="0.45" stroke-width="0.5"/>
<line x1="519.1" y1="36.1" x2="521.3" y2="36.1" stroke="#333" stroke-width="0.6"/>
<text transform="translate(528.9,39.2) scale(0.92,1)" font-size="9.3" text-anchor="middle">25</text>
<line x1="519.1" y1="100.2" x2="521.3" y2="100.2" stroke="#333" stroke-width="0.6"/>
<text transform="translate(528.9,103.3) scale(0.92,1)" font-size="9.3" text-anchor="middle">20</text>
<line x1="519.1" y1="164.2" x2="521.3" y2="164.2" stroke="#333" stroke-width="0.6"/>
<text transform="translate(528.9,167.3) scale(0.92,1)" font-size="9.3" text-anchor="middle">15</text>
<line x1="519.1" y1="228.3" x2="521.3" y2="228.3" stroke="#333" stroke-width="0.6"/>
<text transform="translate(528.9,231.4) scale(0.92,1)" font-size="9.3" text-anchor="middle">10</text>
<line x1="519.1" y1="292.3" x2="521.3" y2="292.3" stroke="#333" stroke-width="0.6"/>
<text transform="translate(528.9,295.4) scale(0.92,1)" font-size="9.3" text-anchor="middle">5</text>
<text transform="translate(528.9,359.5) scale(0.92,1)" font-size="9.3" text-anchor="middle">0</text>
</g>
<text x="4.8" y="14.2" font-size="10.6" textLength="109.7" lengthAdjust="spacingAndGlyphs">R<tspan font-size="6.9" dy="4.5">rs</tspan><tspan dy="-4.5" dx="-0.5" font-size="1">​</tspan> at 560 nm (Sr<tspan font-size="6.6" dy="-3.6">−1</tspan><tspan dy="3.6" font-size="1">​</tspan>)</text>
<text x="136.1" y="14.2" font-size="10.6" textLength="108.9" lengthAdjust="spacingAndGlyphs">R<tspan font-size="6.9" dy="4.5">rs</tspan><tspan dy="-4.5" dx="-0.5" font-size="1">​</tspan> at 865 nm (Sr<tspan font-size="6.6" dy="-3.6">−1</tspan><tspan dy="3.6" font-size="1">​</tspan>)</text>
<text x="277.6" y="15.6" font-size="10.6" textLength="98.7" lengthAdjust="spacingAndGlyphs">a at 443 nm (m<tspan font-size="6.6" dy="-3.6">−1</tspan><tspan dy="3.6" font-size="1">​</tspan>)</text>
<text x="412.9" y="14.8" font-size="10.6" textLength="105.5" lengthAdjust="spacingAndGlyphs">b<tspan font-size="6.9" dy="4.5">bp</tspan><tspan dy="-4.5" dx="-0.5" font-size="1">​</tspan> at 490 nm (m<tspan font-size="6.6" dy="-3.6">−1</tspan><tspan dy="3.6" font-size="1">​</tspan>)</text>
<text x="109.4" y="23.6" font-size="9.7">×10<tspan font-size="6.4" dy="-3.0" dx="0.6" fill="#555">−3</tspan></text>
<text x="239.1" y="23.2" font-size="9.7">×10<tspan font-size="6.4" dy="-3.0" dx="0.6" fill="#555">−3</tspan></text>
<text x="378.6" y="24.3" font-size="9.7">×10<tspan font-size="6.4" dy="-3.0" dx="0.6" fill="#555">−2</tspan></text>
<text x="518.8" y="22.4" font-size="9.7">×10<tspan font-size="6.4" dy="-3.0" dx="0.6" fill="#555">−3</tspan></text>
</svg></body></html>
